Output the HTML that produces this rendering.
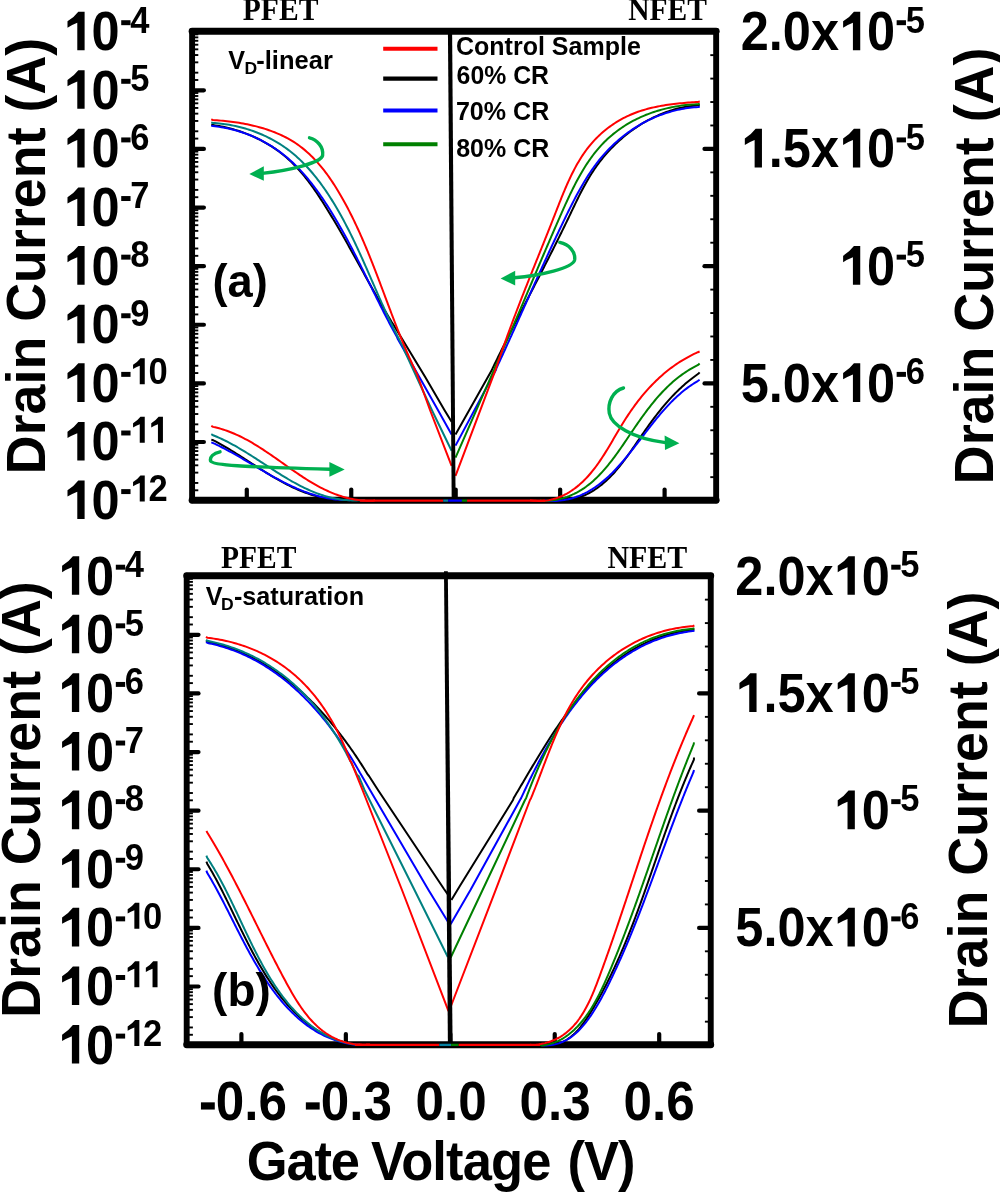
<!DOCTYPE html>
<html><head><meta charset="utf-8"><style>
html,body{margin:0;padding:0;background:#fff;width:1000px;height:1192px;overflow:hidden}
svg{display:block;will-change:transform}

</style></head><body>
<svg width="1000" height="1192" viewBox="0 0 1000 1192">
<rect width="1000" height="1192" fill="#fff"/>
<line x1="192.1" y1="90.312" x2="203.9" y2="90.312" stroke="#000" stroke-width="4.2" stroke-linecap="round"/>
<line x1="192.1" y1="148.925" x2="203.9" y2="148.925" stroke="#000" stroke-width="4.2" stroke-linecap="round"/>
<line x1="192.1" y1="207.537" x2="203.9" y2="207.537" stroke="#000" stroke-width="4.2" stroke-linecap="round"/>
<line x1="192.1" y1="266.15" x2="203.9" y2="266.15" stroke="#000" stroke-width="4.2" stroke-linecap="round"/>
<line x1="192.1" y1="324.762" x2="203.9" y2="324.762" stroke="#000" stroke-width="4.2" stroke-linecap="round"/>
<line x1="192.1" y1="383.375" x2="203.9" y2="383.375" stroke="#000" stroke-width="4.2" stroke-linecap="round"/>
<line x1="192.1" y1="441.987" x2="203.9" y2="441.987" stroke="#000" stroke-width="4.2" stroke-linecap="round"/>
<line x1="192.1" y1="79.991" x2="198.3" y2="79.991" stroke="#000" stroke-width="1.9" stroke-linecap="butt"/>
<line x1="192.1" y1="72.668" x2="198.3" y2="72.668" stroke="#000" stroke-width="1.9" stroke-linecap="butt"/>
<line x1="192.1" y1="62.347" x2="198.3" y2="62.347" stroke="#000" stroke-width="1.9" stroke-linecap="butt"/>
<line x1="192.1" y1="55.024" x2="198.3" y2="55.024" stroke="#000" stroke-width="1.9" stroke-linecap="butt"/>
<line x1="192.1" y1="49.344" x2="198.3" y2="49.344" stroke="#000" stroke-width="1.9" stroke-linecap="butt"/>
<line x1="192.1" y1="44.703" x2="198.3" y2="44.703" stroke="#000" stroke-width="1.9" stroke-linecap="butt"/>
<line x1="192.1" y1="40.779" x2="198.3" y2="40.779" stroke="#000" stroke-width="1.9" stroke-linecap="butt"/>
<line x1="192.1" y1="37.38" x2="198.3" y2="37.38" stroke="#000" stroke-width="1.9" stroke-linecap="butt"/>
<line x1="192.1" y1="34.382" x2="198.3" y2="34.382" stroke="#000" stroke-width="1.9" stroke-linecap="butt"/>
<line x1="192.1" y1="138.604" x2="198.3" y2="138.604" stroke="#000" stroke-width="1.9" stroke-linecap="butt"/>
<line x1="192.1" y1="131.281" x2="198.3" y2="131.281" stroke="#000" stroke-width="1.9" stroke-linecap="butt"/>
<line x1="192.1" y1="120.96" x2="198.3" y2="120.96" stroke="#000" stroke-width="1.9" stroke-linecap="butt"/>
<line x1="192.1" y1="113.637" x2="198.3" y2="113.637" stroke="#000" stroke-width="1.9" stroke-linecap="butt"/>
<line x1="192.1" y1="107.957" x2="198.3" y2="107.957" stroke="#000" stroke-width="1.9" stroke-linecap="butt"/>
<line x1="192.1" y1="103.316" x2="198.3" y2="103.316" stroke="#000" stroke-width="1.9" stroke-linecap="butt"/>
<line x1="192.1" y1="99.392" x2="198.3" y2="99.392" stroke="#000" stroke-width="1.9" stroke-linecap="butt"/>
<line x1="192.1" y1="95.993" x2="198.3" y2="95.993" stroke="#000" stroke-width="1.9" stroke-linecap="butt"/>
<line x1="192.1" y1="92.994" x2="198.3" y2="92.994" stroke="#000" stroke-width="1.9" stroke-linecap="butt"/>
<line x1="192.1" y1="197.216" x2="198.3" y2="197.216" stroke="#000" stroke-width="1.9" stroke-linecap="butt"/>
<line x1="192.1" y1="189.893" x2="198.3" y2="189.893" stroke="#000" stroke-width="1.9" stroke-linecap="butt"/>
<line x1="192.1" y1="179.572" x2="198.3" y2="179.572" stroke="#000" stroke-width="1.9" stroke-linecap="butt"/>
<line x1="192.1" y1="172.249" x2="198.3" y2="172.249" stroke="#000" stroke-width="1.9" stroke-linecap="butt"/>
<line x1="192.1" y1="166.569" x2="198.3" y2="166.569" stroke="#000" stroke-width="1.9" stroke-linecap="butt"/>
<line x1="192.1" y1="161.928" x2="198.3" y2="161.928" stroke="#000" stroke-width="1.9" stroke-linecap="butt"/>
<line x1="192.1" y1="158.004" x2="198.3" y2="158.004" stroke="#000" stroke-width="1.9" stroke-linecap="butt"/>
<line x1="192.1" y1="154.605" x2="198.3" y2="154.605" stroke="#000" stroke-width="1.9" stroke-linecap="butt"/>
<line x1="192.1" y1="151.607" x2="198.3" y2="151.607" stroke="#000" stroke-width="1.9" stroke-linecap="butt"/>
<line x1="192.1" y1="255.829" x2="198.3" y2="255.829" stroke="#000" stroke-width="1.9" stroke-linecap="butt"/>
<line x1="192.1" y1="248.506" x2="198.3" y2="248.506" stroke="#000" stroke-width="1.9" stroke-linecap="butt"/>
<line x1="192.1" y1="238.185" x2="198.3" y2="238.185" stroke="#000" stroke-width="1.9" stroke-linecap="butt"/>
<line x1="192.1" y1="230.862" x2="198.3" y2="230.862" stroke="#000" stroke-width="1.9" stroke-linecap="butt"/>
<line x1="192.1" y1="225.182" x2="198.3" y2="225.182" stroke="#000" stroke-width="1.9" stroke-linecap="butt"/>
<line x1="192.1" y1="220.541" x2="198.3" y2="220.541" stroke="#000" stroke-width="1.9" stroke-linecap="butt"/>
<line x1="192.1" y1="216.617" x2="198.3" y2="216.617" stroke="#000" stroke-width="1.9" stroke-linecap="butt"/>
<line x1="192.1" y1="213.218" x2="198.3" y2="213.218" stroke="#000" stroke-width="1.9" stroke-linecap="butt"/>
<line x1="192.1" y1="210.219" x2="198.3" y2="210.219" stroke="#000" stroke-width="1.9" stroke-linecap="butt"/>
<line x1="192.1" y1="314.441" x2="198.3" y2="314.441" stroke="#000" stroke-width="1.9" stroke-linecap="butt"/>
<line x1="192.1" y1="307.118" x2="198.3" y2="307.118" stroke="#000" stroke-width="1.9" stroke-linecap="butt"/>
<line x1="192.1" y1="296.797" x2="198.3" y2="296.797" stroke="#000" stroke-width="1.9" stroke-linecap="butt"/>
<line x1="192.1" y1="289.474" x2="198.3" y2="289.474" stroke="#000" stroke-width="1.9" stroke-linecap="butt"/>
<line x1="192.1" y1="283.794" x2="198.3" y2="283.794" stroke="#000" stroke-width="1.9" stroke-linecap="butt"/>
<line x1="192.1" y1="279.153" x2="198.3" y2="279.153" stroke="#000" stroke-width="1.9" stroke-linecap="butt"/>
<line x1="192.1" y1="275.229" x2="198.3" y2="275.229" stroke="#000" stroke-width="1.9" stroke-linecap="butt"/>
<line x1="192.1" y1="271.83" x2="198.3" y2="271.83" stroke="#000" stroke-width="1.9" stroke-linecap="butt"/>
<line x1="192.1" y1="268.832" x2="198.3" y2="268.832" stroke="#000" stroke-width="1.9" stroke-linecap="butt"/>
<line x1="192.1" y1="373.054" x2="198.3" y2="373.054" stroke="#000" stroke-width="1.9" stroke-linecap="butt"/>
<line x1="192.1" y1="365.731" x2="198.3" y2="365.731" stroke="#000" stroke-width="1.9" stroke-linecap="butt"/>
<line x1="192.1" y1="355.41" x2="198.3" y2="355.41" stroke="#000" stroke-width="1.9" stroke-linecap="butt"/>
<line x1="192.1" y1="348.087" x2="198.3" y2="348.087" stroke="#000" stroke-width="1.9" stroke-linecap="butt"/>
<line x1="192.1" y1="342.407" x2="198.3" y2="342.407" stroke="#000" stroke-width="1.9" stroke-linecap="butt"/>
<line x1="192.1" y1="337.766" x2="198.3" y2="337.766" stroke="#000" stroke-width="1.9" stroke-linecap="butt"/>
<line x1="192.1" y1="333.842" x2="198.3" y2="333.842" stroke="#000" stroke-width="1.9" stroke-linecap="butt"/>
<line x1="192.1" y1="330.443" x2="198.3" y2="330.443" stroke="#000" stroke-width="1.9" stroke-linecap="butt"/>
<line x1="192.1" y1="327.444" x2="198.3" y2="327.444" stroke="#000" stroke-width="1.9" stroke-linecap="butt"/>
<line x1="192.1" y1="431.666" x2="198.3" y2="431.666" stroke="#000" stroke-width="1.9" stroke-linecap="butt"/>
<line x1="192.1" y1="424.343" x2="198.3" y2="424.343" stroke="#000" stroke-width="1.9" stroke-linecap="butt"/>
<line x1="192.1" y1="414.022" x2="198.3" y2="414.022" stroke="#000" stroke-width="1.9" stroke-linecap="butt"/>
<line x1="192.1" y1="406.699" x2="198.3" y2="406.699" stroke="#000" stroke-width="1.9" stroke-linecap="butt"/>
<line x1="192.1" y1="401.019" x2="198.3" y2="401.019" stroke="#000" stroke-width="1.9" stroke-linecap="butt"/>
<line x1="192.1" y1="396.378" x2="198.3" y2="396.378" stroke="#000" stroke-width="1.9" stroke-linecap="butt"/>
<line x1="192.1" y1="392.454" x2="198.3" y2="392.454" stroke="#000" stroke-width="1.9" stroke-linecap="butt"/>
<line x1="192.1" y1="389.055" x2="198.3" y2="389.055" stroke="#000" stroke-width="1.9" stroke-linecap="butt"/>
<line x1="192.1" y1="386.057" x2="198.3" y2="386.057" stroke="#000" stroke-width="1.9" stroke-linecap="butt"/>
<line x1="192.1" y1="490.279" x2="198.3" y2="490.279" stroke="#000" stroke-width="1.9" stroke-linecap="butt"/>
<line x1="192.1" y1="482.956" x2="198.3" y2="482.956" stroke="#000" stroke-width="1.9" stroke-linecap="butt"/>
<line x1="192.1" y1="472.635" x2="198.3" y2="472.635" stroke="#000" stroke-width="1.9" stroke-linecap="butt"/>
<line x1="192.1" y1="465.312" x2="198.3" y2="465.312" stroke="#000" stroke-width="1.9" stroke-linecap="butt"/>
<line x1="192.1" y1="459.632" x2="198.3" y2="459.632" stroke="#000" stroke-width="1.9" stroke-linecap="butt"/>
<line x1="192.1" y1="454.991" x2="198.3" y2="454.991" stroke="#000" stroke-width="1.9" stroke-linecap="butt"/>
<line x1="192.1" y1="451.067" x2="198.3" y2="451.067" stroke="#000" stroke-width="1.9" stroke-linecap="butt"/>
<line x1="192.1" y1="447.668" x2="198.3" y2="447.668" stroke="#000" stroke-width="1.9" stroke-linecap="butt"/>
<line x1="192.1" y1="444.669" x2="198.3" y2="444.669" stroke="#000" stroke-width="1.9" stroke-linecap="butt"/>
<line x1="716.15" y1="148.925" x2="704.5" y2="148.925" stroke="#000" stroke-width="4.2" stroke-linecap="round"/>
<line x1="716.15" y1="266.15" x2="704.5" y2="266.15" stroke="#000" stroke-width="4.2" stroke-linecap="round"/>
<line x1="716.15" y1="383.375" x2="704.5" y2="383.375" stroke="#000" stroke-width="4.2" stroke-linecap="round"/>
<line x1="716.15" y1="55.145" x2="710.3" y2="55.145" stroke="#000" stroke-width="1.9" stroke-linecap="butt"/>
<line x1="716.15" y1="78.59" x2="710.3" y2="78.59" stroke="#000" stroke-width="1.9" stroke-linecap="butt"/>
<line x1="716.15" y1="102.035" x2="710.3" y2="102.035" stroke="#000" stroke-width="1.9" stroke-linecap="butt"/>
<line x1="716.15" y1="125.48" x2="710.3" y2="125.48" stroke="#000" stroke-width="1.9" stroke-linecap="butt"/>
<line x1="716.15" y1="172.37" x2="710.3" y2="172.37" stroke="#000" stroke-width="1.9" stroke-linecap="butt"/>
<line x1="716.15" y1="195.815" x2="710.3" y2="195.815" stroke="#000" stroke-width="1.9" stroke-linecap="butt"/>
<line x1="716.15" y1="219.26" x2="710.3" y2="219.26" stroke="#000" stroke-width="1.9" stroke-linecap="butt"/>
<line x1="716.15" y1="242.705" x2="710.3" y2="242.705" stroke="#000" stroke-width="1.9" stroke-linecap="butt"/>
<line x1="716.15" y1="289.595" x2="710.3" y2="289.595" stroke="#000" stroke-width="1.9" stroke-linecap="butt"/>
<line x1="716.15" y1="313.04" x2="710.3" y2="313.04" stroke="#000" stroke-width="1.9" stroke-linecap="butt"/>
<line x1="716.15" y1="336.485" x2="710.3" y2="336.485" stroke="#000" stroke-width="1.9" stroke-linecap="butt"/>
<line x1="716.15" y1="359.93" x2="710.3" y2="359.93" stroke="#000" stroke-width="1.9" stroke-linecap="butt"/>
<line x1="716.15" y1="406.82" x2="710.3" y2="406.82" stroke="#000" stroke-width="1.9" stroke-linecap="butt"/>
<line x1="716.15" y1="430.265" x2="710.3" y2="430.265" stroke="#000" stroke-width="1.9" stroke-linecap="butt"/>
<line x1="716.15" y1="453.71" x2="710.3" y2="453.71" stroke="#000" stroke-width="1.9" stroke-linecap="butt"/>
<line x1="716.15" y1="477.155" x2="710.3" y2="477.155" stroke="#000" stroke-width="1.9" stroke-linecap="butt"/>
<line x1="246.8" y1="500.2" x2="246.8" y2="489.6" stroke="#000" stroke-width="4.2" stroke-linecap="round"/>
<line x1="351.25" y1="500.2" x2="351.25" y2="489.6" stroke="#000" stroke-width="4.2" stroke-linecap="round"/>
<line x1="455.7" y1="500.2" x2="455.7" y2="489.6" stroke="#000" stroke-width="4.2" stroke-linecap="round"/>
<line x1="560.15" y1="500.2" x2="560.15" y2="489.6" stroke="#000" stroke-width="4.2" stroke-linecap="round"/>
<line x1="664.6" y1="500.2" x2="664.6" y2="489.6" stroke="#000" stroke-width="4.2" stroke-linecap="round"/>
<line x1="186.7" y1="634.812" x2="198.5" y2="634.812" stroke="#000" stroke-width="4.2" stroke-linecap="round"/>
<line x1="186.7" y1="693.425" x2="198.5" y2="693.425" stroke="#000" stroke-width="4.2" stroke-linecap="round"/>
<line x1="186.7" y1="752.037" x2="198.5" y2="752.037" stroke="#000" stroke-width="4.2" stroke-linecap="round"/>
<line x1="186.7" y1="810.65" x2="198.5" y2="810.65" stroke="#000" stroke-width="4.2" stroke-linecap="round"/>
<line x1="186.7" y1="869.262" x2="198.5" y2="869.262" stroke="#000" stroke-width="4.2" stroke-linecap="round"/>
<line x1="186.7" y1="927.875" x2="198.5" y2="927.875" stroke="#000" stroke-width="4.2" stroke-linecap="round"/>
<line x1="186.7" y1="986.487" x2="198.5" y2="986.487" stroke="#000" stroke-width="4.2" stroke-linecap="round"/>
<line x1="186.7" y1="624.491" x2="192.9" y2="624.491" stroke="#000" stroke-width="1.9" stroke-linecap="butt"/>
<line x1="186.7" y1="617.168" x2="192.9" y2="617.168" stroke="#000" stroke-width="1.9" stroke-linecap="butt"/>
<line x1="186.7" y1="606.847" x2="192.9" y2="606.847" stroke="#000" stroke-width="1.9" stroke-linecap="butt"/>
<line x1="186.7" y1="599.524" x2="192.9" y2="599.524" stroke="#000" stroke-width="1.9" stroke-linecap="butt"/>
<line x1="186.7" y1="593.844" x2="192.9" y2="593.844" stroke="#000" stroke-width="1.9" stroke-linecap="butt"/>
<line x1="186.7" y1="589.203" x2="192.9" y2="589.203" stroke="#000" stroke-width="1.9" stroke-linecap="butt"/>
<line x1="186.7" y1="585.279" x2="192.9" y2="585.279" stroke="#000" stroke-width="1.9" stroke-linecap="butt"/>
<line x1="186.7" y1="581.88" x2="192.9" y2="581.88" stroke="#000" stroke-width="1.9" stroke-linecap="butt"/>
<line x1="186.7" y1="578.882" x2="192.9" y2="578.882" stroke="#000" stroke-width="1.9" stroke-linecap="butt"/>
<line x1="186.7" y1="683.104" x2="192.9" y2="683.104" stroke="#000" stroke-width="1.9" stroke-linecap="butt"/>
<line x1="186.7" y1="675.781" x2="192.9" y2="675.781" stroke="#000" stroke-width="1.9" stroke-linecap="butt"/>
<line x1="186.7" y1="665.46" x2="192.9" y2="665.46" stroke="#000" stroke-width="1.9" stroke-linecap="butt"/>
<line x1="186.7" y1="658.137" x2="192.9" y2="658.137" stroke="#000" stroke-width="1.9" stroke-linecap="butt"/>
<line x1="186.7" y1="652.457" x2="192.9" y2="652.457" stroke="#000" stroke-width="1.9" stroke-linecap="butt"/>
<line x1="186.7" y1="647.816" x2="192.9" y2="647.816" stroke="#000" stroke-width="1.9" stroke-linecap="butt"/>
<line x1="186.7" y1="643.892" x2="192.9" y2="643.892" stroke="#000" stroke-width="1.9" stroke-linecap="butt"/>
<line x1="186.7" y1="640.493" x2="192.9" y2="640.493" stroke="#000" stroke-width="1.9" stroke-linecap="butt"/>
<line x1="186.7" y1="637.494" x2="192.9" y2="637.494" stroke="#000" stroke-width="1.9" stroke-linecap="butt"/>
<line x1="186.7" y1="741.716" x2="192.9" y2="741.716" stroke="#000" stroke-width="1.9" stroke-linecap="butt"/>
<line x1="186.7" y1="734.393" x2="192.9" y2="734.393" stroke="#000" stroke-width="1.9" stroke-linecap="butt"/>
<line x1="186.7" y1="724.072" x2="192.9" y2="724.072" stroke="#000" stroke-width="1.9" stroke-linecap="butt"/>
<line x1="186.7" y1="716.749" x2="192.9" y2="716.749" stroke="#000" stroke-width="1.9" stroke-linecap="butt"/>
<line x1="186.7" y1="711.069" x2="192.9" y2="711.069" stroke="#000" stroke-width="1.9" stroke-linecap="butt"/>
<line x1="186.7" y1="706.428" x2="192.9" y2="706.428" stroke="#000" stroke-width="1.9" stroke-linecap="butt"/>
<line x1="186.7" y1="702.504" x2="192.9" y2="702.504" stroke="#000" stroke-width="1.9" stroke-linecap="butt"/>
<line x1="186.7" y1="699.105" x2="192.9" y2="699.105" stroke="#000" stroke-width="1.9" stroke-linecap="butt"/>
<line x1="186.7" y1="696.107" x2="192.9" y2="696.107" stroke="#000" stroke-width="1.9" stroke-linecap="butt"/>
<line x1="186.7" y1="800.329" x2="192.9" y2="800.329" stroke="#000" stroke-width="1.9" stroke-linecap="butt"/>
<line x1="186.7" y1="793.006" x2="192.9" y2="793.006" stroke="#000" stroke-width="1.9" stroke-linecap="butt"/>
<line x1="186.7" y1="782.685" x2="192.9" y2="782.685" stroke="#000" stroke-width="1.9" stroke-linecap="butt"/>
<line x1="186.7" y1="775.362" x2="192.9" y2="775.362" stroke="#000" stroke-width="1.9" stroke-linecap="butt"/>
<line x1="186.7" y1="769.682" x2="192.9" y2="769.682" stroke="#000" stroke-width="1.9" stroke-linecap="butt"/>
<line x1="186.7" y1="765.041" x2="192.9" y2="765.041" stroke="#000" stroke-width="1.9" stroke-linecap="butt"/>
<line x1="186.7" y1="761.117" x2="192.9" y2="761.117" stroke="#000" stroke-width="1.9" stroke-linecap="butt"/>
<line x1="186.7" y1="757.718" x2="192.9" y2="757.718" stroke="#000" stroke-width="1.9" stroke-linecap="butt"/>
<line x1="186.7" y1="754.719" x2="192.9" y2="754.719" stroke="#000" stroke-width="1.9" stroke-linecap="butt"/>
<line x1="186.7" y1="858.941" x2="192.9" y2="858.941" stroke="#000" stroke-width="1.9" stroke-linecap="butt"/>
<line x1="186.7" y1="851.618" x2="192.9" y2="851.618" stroke="#000" stroke-width="1.9" stroke-linecap="butt"/>
<line x1="186.7" y1="841.297" x2="192.9" y2="841.297" stroke="#000" stroke-width="1.9" stroke-linecap="butt"/>
<line x1="186.7" y1="833.974" x2="192.9" y2="833.974" stroke="#000" stroke-width="1.9" stroke-linecap="butt"/>
<line x1="186.7" y1="828.294" x2="192.9" y2="828.294" stroke="#000" stroke-width="1.9" stroke-linecap="butt"/>
<line x1="186.7" y1="823.653" x2="192.9" y2="823.653" stroke="#000" stroke-width="1.9" stroke-linecap="butt"/>
<line x1="186.7" y1="819.729" x2="192.9" y2="819.729" stroke="#000" stroke-width="1.9" stroke-linecap="butt"/>
<line x1="186.7" y1="816.33" x2="192.9" y2="816.33" stroke="#000" stroke-width="1.9" stroke-linecap="butt"/>
<line x1="186.7" y1="813.332" x2="192.9" y2="813.332" stroke="#000" stroke-width="1.9" stroke-linecap="butt"/>
<line x1="186.7" y1="917.554" x2="192.9" y2="917.554" stroke="#000" stroke-width="1.9" stroke-linecap="butt"/>
<line x1="186.7" y1="910.231" x2="192.9" y2="910.231" stroke="#000" stroke-width="1.9" stroke-linecap="butt"/>
<line x1="186.7" y1="899.91" x2="192.9" y2="899.91" stroke="#000" stroke-width="1.9" stroke-linecap="butt"/>
<line x1="186.7" y1="892.587" x2="192.9" y2="892.587" stroke="#000" stroke-width="1.9" stroke-linecap="butt"/>
<line x1="186.7" y1="886.907" x2="192.9" y2="886.907" stroke="#000" stroke-width="1.9" stroke-linecap="butt"/>
<line x1="186.7" y1="882.266" x2="192.9" y2="882.266" stroke="#000" stroke-width="1.9" stroke-linecap="butt"/>
<line x1="186.7" y1="878.342" x2="192.9" y2="878.342" stroke="#000" stroke-width="1.9" stroke-linecap="butt"/>
<line x1="186.7" y1="874.943" x2="192.9" y2="874.943" stroke="#000" stroke-width="1.9" stroke-linecap="butt"/>
<line x1="186.7" y1="871.944" x2="192.9" y2="871.944" stroke="#000" stroke-width="1.9" stroke-linecap="butt"/>
<line x1="186.7" y1="976.166" x2="192.9" y2="976.166" stroke="#000" stroke-width="1.9" stroke-linecap="butt"/>
<line x1="186.7" y1="968.843" x2="192.9" y2="968.843" stroke="#000" stroke-width="1.9" stroke-linecap="butt"/>
<line x1="186.7" y1="958.522" x2="192.9" y2="958.522" stroke="#000" stroke-width="1.9" stroke-linecap="butt"/>
<line x1="186.7" y1="951.199" x2="192.9" y2="951.199" stroke="#000" stroke-width="1.9" stroke-linecap="butt"/>
<line x1="186.7" y1="945.519" x2="192.9" y2="945.519" stroke="#000" stroke-width="1.9" stroke-linecap="butt"/>
<line x1="186.7" y1="940.878" x2="192.9" y2="940.878" stroke="#000" stroke-width="1.9" stroke-linecap="butt"/>
<line x1="186.7" y1="936.954" x2="192.9" y2="936.954" stroke="#000" stroke-width="1.9" stroke-linecap="butt"/>
<line x1="186.7" y1="933.555" x2="192.9" y2="933.555" stroke="#000" stroke-width="1.9" stroke-linecap="butt"/>
<line x1="186.7" y1="930.557" x2="192.9" y2="930.557" stroke="#000" stroke-width="1.9" stroke-linecap="butt"/>
<line x1="186.7" y1="1034.779" x2="192.9" y2="1034.779" stroke="#000" stroke-width="1.9" stroke-linecap="butt"/>
<line x1="186.7" y1="1027.456" x2="192.9" y2="1027.456" stroke="#000" stroke-width="1.9" stroke-linecap="butt"/>
<line x1="186.7" y1="1017.135" x2="192.9" y2="1017.135" stroke="#000" stroke-width="1.9" stroke-linecap="butt"/>
<line x1="186.7" y1="1009.812" x2="192.9" y2="1009.812" stroke="#000" stroke-width="1.9" stroke-linecap="butt"/>
<line x1="186.7" y1="1004.132" x2="192.9" y2="1004.132" stroke="#000" stroke-width="1.9" stroke-linecap="butt"/>
<line x1="186.7" y1="999.491" x2="192.9" y2="999.491" stroke="#000" stroke-width="1.9" stroke-linecap="butt"/>
<line x1="186.7" y1="995.567" x2="192.9" y2="995.567" stroke="#000" stroke-width="1.9" stroke-linecap="butt"/>
<line x1="186.7" y1="992.168" x2="192.9" y2="992.168" stroke="#000" stroke-width="1.9" stroke-linecap="butt"/>
<line x1="186.7" y1="989.169" x2="192.9" y2="989.169" stroke="#000" stroke-width="1.9" stroke-linecap="butt"/>
<line x1="710.75" y1="693.425" x2="699.1" y2="693.425" stroke="#000" stroke-width="4.2" stroke-linecap="round"/>
<line x1="710.75" y1="810.65" x2="699.1" y2="810.65" stroke="#000" stroke-width="4.2" stroke-linecap="round"/>
<line x1="710.75" y1="927.875" x2="699.1" y2="927.875" stroke="#000" stroke-width="4.2" stroke-linecap="round"/>
<line x1="710.75" y1="599.645" x2="704.9" y2="599.645" stroke="#000" stroke-width="1.9" stroke-linecap="butt"/>
<line x1="710.75" y1="623.09" x2="704.9" y2="623.09" stroke="#000" stroke-width="1.9" stroke-linecap="butt"/>
<line x1="710.75" y1="646.535" x2="704.9" y2="646.535" stroke="#000" stroke-width="1.9" stroke-linecap="butt"/>
<line x1="710.75" y1="669.98" x2="704.9" y2="669.98" stroke="#000" stroke-width="1.9" stroke-linecap="butt"/>
<line x1="710.75" y1="716.87" x2="704.9" y2="716.87" stroke="#000" stroke-width="1.9" stroke-linecap="butt"/>
<line x1="710.75" y1="740.315" x2="704.9" y2="740.315" stroke="#000" stroke-width="1.9" stroke-linecap="butt"/>
<line x1="710.75" y1="763.76" x2="704.9" y2="763.76" stroke="#000" stroke-width="1.9" stroke-linecap="butt"/>
<line x1="710.75" y1="787.205" x2="704.9" y2="787.205" stroke="#000" stroke-width="1.9" stroke-linecap="butt"/>
<line x1="710.75" y1="834.095" x2="704.9" y2="834.095" stroke="#000" stroke-width="1.9" stroke-linecap="butt"/>
<line x1="710.75" y1="857.54" x2="704.9" y2="857.54" stroke="#000" stroke-width="1.9" stroke-linecap="butt"/>
<line x1="710.75" y1="880.985" x2="704.9" y2="880.985" stroke="#000" stroke-width="1.9" stroke-linecap="butt"/>
<line x1="710.75" y1="904.43" x2="704.9" y2="904.43" stroke="#000" stroke-width="1.9" stroke-linecap="butt"/>
<line x1="710.75" y1="951.32" x2="704.9" y2="951.32" stroke="#000" stroke-width="1.9" stroke-linecap="butt"/>
<line x1="710.75" y1="974.765" x2="704.9" y2="974.765" stroke="#000" stroke-width="1.9" stroke-linecap="butt"/>
<line x1="710.75" y1="998.21" x2="704.9" y2="998.21" stroke="#000" stroke-width="1.9" stroke-linecap="butt"/>
<line x1="710.75" y1="1021.655" x2="704.9" y2="1021.655" stroke="#000" stroke-width="1.9" stroke-linecap="butt"/>
<line x1="241.4" y1="1044.7" x2="241.4" y2="1034.1" stroke="#000" stroke-width="4.2" stroke-linecap="round"/>
<line x1="345.85" y1="1044.7" x2="345.85" y2="1034.1" stroke="#000" stroke-width="4.2" stroke-linecap="round"/>
<line x1="450.3" y1="1044.7" x2="450.3" y2="1034.1" stroke="#000" stroke-width="4.2" stroke-linecap="round"/>
<line x1="554.75" y1="1044.7" x2="554.75" y2="1034.1" stroke="#000" stroke-width="4.2" stroke-linecap="round"/>
<line x1="659.2" y1="1044.7" x2="659.2" y2="1034.1" stroke="#000" stroke-width="4.2" stroke-linecap="round"/>
<line x1="192.1" y1="31.3" x2="192.1" y2="500.2" stroke="#000" stroke-width="5.9" stroke-linecap="round"/>
<line x1="716.15" y1="31.3" x2="716.15" y2="500.2" stroke="#000" stroke-width="5.9" stroke-linecap="round"/>
<line x1="192.1" y1="31.3" x2="716.15" y2="31.3" stroke="#000" stroke-width="6.9" stroke-linecap="round"/>
<line x1="192.1" y1="500.2" x2="716.15" y2="500.2" stroke="#000" stroke-width="6.9" stroke-linecap="round"/>
<line x1="186.7" y1="575.8" x2="186.7" y2="1044.7" stroke="#000" stroke-width="5.9" stroke-linecap="round"/>
<line x1="710.75" y1="575.8" x2="710.75" y2="1044.7" stroke="#000" stroke-width="5.9" stroke-linecap="round"/>
<line x1="186.7" y1="575.8" x2="710.75" y2="575.8" stroke="#000" stroke-width="6.9" stroke-linecap="round"/>
<line x1="186.7" y1="1044.7" x2="710.75" y2="1044.7" stroke="#000" stroke-width="6.9" stroke-linecap="round"/>
<path d="M211.2,124.8 L213.1,125.076 L215.132,125.372 L217.16,125.696 L219.182,126.048 L221.2,126.427 L223.212,126.834 L225.217,127.268 L227.216,127.729 L229.208,128.217 L231.192,128.732 L233.169,129.274 L235.136,129.844 L237.095,130.439 L239.045,131.062 L240.985,131.711 L242.914,132.386 L244.833,133.088 L246.741,133.815 L248.637,134.569 L250.521,135.35 L252.393,136.156 L254.251,136.987 L256.097,137.845 L257.928,138.728 L259.745,139.637 L261.548,140.571 L263.335,141.531 L265.107,142.516 L266.862,143.525 L268.601,144.561 L270.323,145.62 L272.028,146.705 L273.714,147.815 L275.383,148.949 L277.032,150.108 L278.663,151.291 L280.273,152.499 L281.864,153.731 L283.434,154.987 L284.983,156.267 L286.51,157.571 L288.015,158.899 L289.499,160.25 L290.962,161.625 L292.404,163.021 L293.825,164.438 L295.227,165.876 L296.61,167.334 L297.975,168.811 L299.321,170.306 L300.65,171.819 L301.961,173.35 L303.256,174.896 L304.536,176.459 L305.8,178.036 L307.049,179.628 L308.283,181.233 L309.504,182.851 L310.711,184.481 L311.906,186.123 L313.088,187.776 L314.259,189.438 L315.418,191.11 L316.567,192.791 L317.706,194.479 L318.835,196.175 L319.955,197.878 L321.066,199.586 L322.169,201.299 L323.265,203.017 L324.354,204.739 L325.436,206.464 L326.512,208.191 L327.583,209.92 L328.648,211.652 L329.708,213.385 L330.762,215.121 L331.811,216.859 L332.856,218.598 L333.896,220.34 L334.931,222.083 L335.962,223.828 L336.988,225.575 L338.011,227.323 L339.029,229.073 L340.044,230.824 L341.056,232.577 L342.063,234.331 L343.068,236.086 L344.07,237.843 L345.069,239.601 L346.065,241.359 L347.058,243.119 L348.049,244.88 L349.038,246.642 L350.025,248.404 L351.01,250.168 L351.993,251.932 L352.975,253.696 L353.955,255.462 L354.934,257.227 L355.912,258.994 L356.89,260.76 L357.866,262.527 L358.842,264.294 L359.818,266.062 L360.793,267.83 L361.768,269.597 L362.744,271.365 L363.719,273.133 L364.696,274.9 L365.672,276.667 L366.65,278.435 L367.629,280.201 L368.608,281.968 L369.589,283.734 L370.572,285.499 L371.556,287.264 L372.542,289.029 L373.529,290.792 L374.519,292.555 L375.512,294.317 L376.506,296.078 L377.504,297.839 L378.504,299.598 L379.507,301.356 L380.513,303.113 L381.523,304.869 L382.536,306.624 L383.553,308.377 L384.573,310.129 L385.598,311.88 L386.626,313.629 L387.659,315.376 L388.697,317.122 L389.739,318.866 L390.786,320.608 L391.838,322.349 L393,324 L404,342 L425.2,377 L444.4,410 L451.6,421.8" fill="none" stroke="#000000" stroke-width="2" stroke-linejoin="round" stroke-linecap="butt"/>
<path d="M211.2,125.6 L212.934,126.096 L215.029,126.325 L217.114,126.584 L219.188,126.875 L221.252,127.196 L223.305,127.548 L225.347,127.93 L227.378,128.342 L229.397,128.784 L231.404,129.255 L233.4,129.756 L235.384,130.286 L237.355,130.845 L239.314,131.432 L241.26,132.048 L243.193,132.692 L245.113,133.364 L247.02,134.064 L248.913,134.791 L250.793,135.546 L252.658,136.327 L254.509,137.136 L256.346,137.971 L258.168,138.832 L259.975,139.719 L261.768,140.633 L263.545,141.572 L265.306,142.536 L267.052,143.526 L268.782,144.54 L270.496,145.58 L272.194,146.643 L273.875,147.732 L275.539,148.844 L277.186,149.98 L278.817,151.139 L280.43,152.322 L282.025,153.528 L283.602,154.757 L285.162,156.008 L286.703,157.282 L288.226,158.578 L289.731,159.896 L291.218,161.235 L292.688,162.594 L294.14,163.973 L295.575,165.371 L296.994,166.789 L298.396,168.224 L299.782,169.677 L301.153,171.147 L302.508,172.633 L303.848,174.135 L305.173,175.652 L306.484,177.184 L307.78,178.731 L309.063,180.29 L310.332,181.863 L311.587,183.448 L312.83,185.044 L314.06,186.652 L315.277,188.27 L316.483,189.899 L317.676,191.537 L318.858,193.184 L320.029,194.839 L321.189,196.501 L322.339,198.171 L323.478,199.848 L324.607,201.53 L325.726,203.219 L326.836,204.913 L327.936,206.613 L329.027,208.319 L330.109,210.03 L331.183,211.747 L332.247,213.468 L333.304,215.195 L334.352,216.927 L335.392,218.663 L336.425,220.404 L337.45,222.15 L338.468,223.9 L339.479,225.654 L340.483,227.412 L341.48,229.174 L342.47,230.94 L343.455,232.71 L344.433,234.484 L345.406,236.26 L346.373,238.04 L347.334,239.823 L348.29,241.61 L349.242,243.399 L350.188,245.191 L351.13,246.985 L352.067,248.782 L353.001,250.581 L353.93,252.383 L354.856,254.186 L355.778,255.991 L356.697,257.799 L357.612,259.608 L358.525,261.418 L359.435,263.23 L360.343,265.043 L361.248,266.857 L362.151,268.672 L363.052,270.488 L363.952,272.305 L364.85,274.122 L365.747,275.94 L366.643,277.758 L367.538,279.576 L368.433,281.394 L369.327,283.212 L370.221,285.03 L371.115,286.848 L372.009,288.665 L372.903,290.481 L373.799,292.296 L374.695,294.111 L375.592,295.925 L376.49,297.737 L377.39,299.548 L378.292,301.358 L379.195,303.166 L380.101,304.972 L381.009,306.776 L381.919,308.579 L382.833,310.379 L383.749,312.177 L384.668,313.973 L385.591,315.766 L386.517,317.556 L387.447,319.343 L388.381,321.128 L389.319,322.91 L390.262,324.688 L391.209,326.463 L392.161,328.234 L393.118,330.002 L394.081,331.766 L395.048,333.526 L396.022,335.282 L397.001,337.034 L397.8,339 L410.8,362 L422,381.8 L437.9,410 L451.6,434.4" fill="none" stroke="#0000ff" stroke-width="2" stroke-linejoin="round" stroke-linecap="butt"/>
<path d="M211.2,122.4 L212.87,122.952 L214.947,123.091 L217.019,123.259 L219.085,123.456 L221.146,123.681 L223.2,123.934 L225.248,124.215 L227.29,124.524 L229.323,124.861 L231.349,125.226 L233.367,125.619 L235.377,126.04 L237.378,126.488 L239.369,126.963 L241.351,127.466 L243.323,127.997 L245.284,128.554 L247.235,129.139 L249.175,129.75 L251.103,130.389 L253.019,131.054 L254.923,131.746 L256.814,132.465 L258.692,133.21 L260.557,133.982 L262.408,134.78 L264.245,135.604 L266.067,136.455 L267.874,137.332 L269.666,138.234 L271.442,139.162 L273.202,140.117 L274.946,141.097 L276.672,142.102 L278.382,143.133 L280.074,144.19 L281.747,145.271 L283.403,146.378 L285.04,147.51 L286.657,148.668 L288.255,149.85 L289.833,151.056 L291.392,152.287 L292.932,153.541 L294.453,154.819 L295.956,156.118 L297.44,157.44 L298.905,158.783 L300.353,160.146 L301.784,161.53 L303.197,162.934 L304.592,164.357 L305.971,165.798 L307.333,167.257 L308.679,168.734 L310.009,170.228 L311.322,171.738 L312.62,173.264 L313.903,174.805 L315.17,176.361 L316.422,177.932 L317.66,179.516 L318.883,181.113 L320.092,182.723 L321.287,184.344 L322.468,185.977 L323.635,187.621 L324.79,189.276 L325.931,190.94 L327.06,192.614 L328.176,194.296 L329.28,195.987 L330.372,197.685 L331.452,199.39 L332.52,201.102 L333.577,202.82 L334.624,204.544 L335.659,206.275 L336.684,208.011 L337.698,209.753 L338.703,211.501 L339.698,213.255 L340.683,215.013 L341.659,216.777 L342.625,218.546 L343.584,220.32 L344.533,222.098 L345.474,223.881 L346.407,225.669 L347.333,227.461 L348.251,229.257 L349.161,231.057 L350.065,232.861 L350.962,234.668 L351.852,236.479 L352.736,238.294 L353.613,240.112 L354.485,241.933 L355.352,243.757 L356.213,245.584 L357.069,247.413 L357.921,249.245 L358.768,251.08 L359.61,252.917 L360.449,254.756 L361.283,256.596 L362.115,258.439 L362.942,260.283 L363.767,262.129 L364.589,263.976 L365.409,265.825 L366.226,267.674 L367.041,269.525 L367.854,271.376 L368.666,273.228 L369.477,275.08 L370.286,276.933 L371.095,278.786 L371.903,280.639 L372.711,282.491 L373.519,284.344 L374.327,286.196 L375.135,288.048 L375.944,289.899 L376.754,291.749 L377.565,293.598 L378.378,295.446 L379.193,297.293 L380.009,299.138 L380.828,300.982 L381.649,302.824 L382.472,304.665 L383.299,306.503 L384.129,308.339 L384.962,310.173 L385.799,312.004 L386.64,313.833 L387.486,315.659 L388.335,317.482 L389.19,319.302 L390.049,321.119 L390.914,322.932 L391.784,324.743 L392.659,326.549 L393.541,328.352 L394.429,330.151 L395.323,331.945 L396.224,333.736 L397.132,335.522 L398.047,337.304 L398.969,339.081 L399.9,340.853 L400.838,342.62 L401.784,344.383 L402.739,346.14 L403.703,347.891 L404.2,350 L431.8,410 L451.6,450.8" fill="none" stroke="#008080" stroke-width="2" stroke-linejoin="round" stroke-linecap="butt"/>
<path d="M211.2,119.4 L212.942,120.055 L214.928,120.177 L216.922,120.312 L218.923,120.463 L220.929,120.628 L222.941,120.809 L224.958,121.005 L226.979,121.218 L229.002,121.447 L231.028,121.694 L233.056,121.958 L235.084,122.24 L237.112,122.54 L239.139,122.859 L241.165,123.198 L243.189,123.555 L245.209,123.933 L247.226,124.332 L249.237,124.751 L251.244,125.192 L253.244,125.654 L255.238,126.139 L257.224,126.646 L259.201,127.176 L261.169,127.73 L263.127,128.307 L265.075,128.909 L267.01,129.535 L268.934,130.187 L270.844,130.864 L272.741,131.567 L274.623,132.296 L276.489,133.052 L278.34,133.836 L280.173,134.647 L281.989,135.486 L283.787,136.354 L285.565,137.25 L287.323,138.176 L289.061,139.132 L290.777,140.118 L292.47,141.134 L294.141,142.182 L295.788,143.261 L297.41,144.371 L299.009,145.512 L300.585,146.683 L302.138,147.883 L303.668,149.111 L305.176,150.368 L306.662,151.651 L308.126,152.96 L309.569,154.296 L310.992,155.656 L312.394,157.04 L313.776,158.448 L315.138,159.879 L316.48,161.331 L317.804,162.805 L319.109,164.3 L320.396,165.814 L321.664,167.348 L322.915,168.9 L324.149,170.47 L325.366,172.057 L326.567,173.66 L327.751,175.279 L328.92,176.912 L330.073,178.56 L331.211,180.222 L332.334,181.896 L333.443,183.582 L334.538,185.279 L335.619,186.987 L336.687,188.705 L337.742,190.433 L338.784,192.168 L339.815,193.911 L340.833,195.662 L341.84,197.419 L342.836,199.181 L343.821,200.948 L344.795,202.72 L345.759,204.496 L346.713,206.277 L347.657,208.062 L348.592,209.851 L349.516,211.645 L350.432,213.442 L351.338,215.243 L352.236,217.049 L353.125,218.858 L354.005,220.67 L354.877,222.487 L355.741,224.307 L356.597,226.13 L357.445,227.956 L358.286,229.786 L359.12,231.619 L359.946,233.455 L360.766,235.294 L361.579,237.136 L362.386,238.98 L363.186,240.828 L363.98,242.677 L364.768,244.53 L365.551,246.384 L366.328,248.242 L367.1,250.101 L367.867,251.962 L368.629,253.826 L369.386,255.691 L370.139,257.558 L370.887,259.427 L371.632,261.298 L372.373,263.17 L373.11,265.044 L373.844,266.919 L374.574,268.796 L375.301,270.674 L376.026,272.552 L376.748,274.432 L377.467,276.313 L378.185,278.195 L378.9,280.077 L379.614,281.961 L380.325,283.844 L381.036,285.729 L381.745,287.613 L382.453,289.498 L383.161,291.383 L383.868,293.269 L384.574,295.154 L385.28,297.039 L385.986,298.924 L386.693,300.809 L387.4,302.694 L388.107,304.578 L388.815,306.462 L389.525,308.345 L390.235,310.227 L390.947,312.109 L391.661,313.99 L392.376,315.869 L393.094,317.748 L393.813,319.626 L394.535,321.502 L395.26,323.377 L395.988,325.251 L396.718,327.123 L397.452,328.993 L398.19,330.862 L398.931,332.729 L399.675,334.594 L400.424,336.457 L401.177,338.318 L401.935,340.177 L402.697,342.034 L403.464,343.888 L404.237,345.74 L405.014,347.59 L405.797,349.436 L406.586,351.281 L407.38,353.122 L408.181,354.96 L408.988,356.796 L409.801,358.628 L410.621,360.458 L411.448,362.284 L412.282,364.106 L413.123,365.926 L413.972,367.741 L414.829,369.554 L415.693,371.362 L416.566,373.167 L417.447,374.968 L418,377 L430,410 L451.6,465.8" fill="none" stroke="#ff0000" stroke-width="2" stroke-linejoin="round" stroke-linecap="butt"/>
<path d="M455.5,434.5 L492,369.8 L492.77,367.926 L493.65,366.111 L494.533,364.296 L495.418,362.483 L496.305,360.671 L497.195,358.859 L498.086,357.049 L498.979,355.24 L499.874,353.431 L500.771,351.624 L501.669,349.818 L502.569,348.012 L503.471,346.207 L504.375,344.403 L505.28,342.6 L506.186,340.798 L507.094,338.996 L508.004,337.196 L508.914,335.395 L509.826,333.596 L510.739,331.797 L511.653,329.998 L512.569,328.201 L513.485,326.403 L514.402,324.607 L515.32,322.81 L516.239,321.015 L517.159,319.219 L518.08,317.424 L519.001,315.629 L519.923,313.835 L520.846,312.041 L521.769,310.247 L522.692,308.454 L523.616,306.661 L524.54,304.868 L525.465,303.075 L526.39,301.282 L527.315,299.489 L528.24,297.697 L529.165,295.904 L530.09,294.112 L531.016,292.319 L531.941,290.526 L532.866,288.734 L533.79,286.941 L534.715,285.148 L535.639,283.355 L536.563,281.562 L537.486,279.768 L538.409,277.975 L539.331,276.181 L540.253,274.387 L541.174,272.592 L542.095,270.797 L543.014,269.002 L543.933,267.206 L544.851,265.41 L545.768,263.613 L546.684,261.816 L547.599,260.019 L548.513,258.22 L549.425,256.422 L550.337,254.622 L551.247,252.822 L552.156,251.021 L553.063,249.22 L553.969,247.418 L554.874,245.615 L555.777,243.811 L556.678,242.007 L557.578,240.201 L558.476,238.395 L559.372,236.588 L560.267,234.78 L561.159,232.971 L562.05,231.161 L562.938,229.35 L563.825,227.538 L564.709,225.725 L565.592,223.911 L566.472,222.095 L567.349,220.279 L568.225,218.461 L569.098,216.642 L569.968,214.822 L570.837,213.002 L571.706,211.181 L572.575,209.36 L573.444,207.54 L574.316,205.722 L575.191,203.905 L576.07,202.091 L576.953,200.28 L577.842,198.472 L578.738,196.668 L579.641,194.869 L580.553,193.075 L581.474,191.286 L582.405,189.504 L583.347,187.728 L584.301,185.959 L585.268,184.198 L586.249,182.446 L587.245,180.702 L588.256,178.967 L589.284,177.242 L590.329,175.527 L591.393,173.823 L592.476,172.131 L593.579,170.45 L594.703,168.782 L595.849,167.127 L597.017,165.485 L598.207,163.857 L599.419,162.243 L600.653,160.644 L601.908,159.059 L603.184,157.49 L604.48,155.936 L605.797,154.398 L607.134,152.877 L608.491,151.372 L609.868,149.884 L611.264,148.414 L612.679,146.961 L614.113,145.527 L615.565,144.111 L617.036,142.714 L618.524,141.336 L620.03,139.978 L621.554,138.64 L623.095,137.322 L624.653,136.024 L626.227,134.748 L627.818,133.493 L629.424,132.26 L631.047,131.049 L632.685,129.861 L634.338,128.696 L636.007,127.553 L637.69,126.435 L639.387,125.34 L641.099,124.27 L642.825,123.224 L644.564,122.203 L646.316,121.208 L648.082,120.239 L649.86,119.296 L651.651,118.379 L653.455,117.489 L655.27,116.627 L657.097,115.792 L658.935,114.985 L660.785,114.206 L662.645,113.456 L664.517,112.735 L666.398,112.044 L668.29,111.382 L670.191,110.751 L672.102,110.15 L674.022,109.58 L675.952,109.041 L677.89,108.534 L679.836,108.059 L681.791,107.616 L683.753,107.206 L685.724,106.829 L687.701,106.486 L689.686,106.176 L691.678,105.9 L693.676,105.659 L695.68,105.453 L697.69,105.282 L699.8,105.3" fill="none" stroke="#000000" stroke-width="2" stroke-linejoin="round" stroke-linecap="butt"/>
<path d="M455.5,445.6 L496,369.8 L496.562,367.815 L497.419,365.981 L498.274,364.147 L499.127,362.312 L499.978,360.477 L500.828,358.642 L501.676,356.807 L502.522,354.971 L503.366,353.135 L504.209,351.299 L505.051,349.462 L505.891,347.625 L506.73,345.788 L507.567,343.951 L508.404,342.113 L509.239,340.276 L510.073,338.438 L510.906,336.6 L511.737,334.761 L512.568,332.923 L513.398,331.084 L514.227,329.245 L515.056,327.406 L515.883,325.567 L516.71,323.728 L517.537,321.889 L518.363,320.05 L519.188,318.21 L520.013,316.371 L520.837,314.531 L521.661,312.692 L522.485,310.852 L523.309,309.012 L524.132,307.173 L524.956,305.333 L525.779,303.494 L526.603,301.654 L527.426,299.815 L528.25,297.975 L529.074,296.136 L529.898,294.296 L530.722,292.457 L531.547,290.618 L532.372,288.779 L533.198,286.94 L534.024,285.101 L534.851,283.262 L535.678,281.424 L536.506,279.585 L537.335,277.747 L538.165,275.909 L538.996,274.071 L539.827,272.234 L540.66,270.396 L541.494,268.559 L542.328,266.722 L543.164,264.886 L544.001,263.049 L544.84,261.213 L545.68,259.377 L546.521,257.542 L547.363,255.707 L548.208,253.872 L549.053,252.037 L549.901,250.203 L550.75,248.369 L551.6,246.536 L552.453,244.703 L553.308,242.87 L554.164,241.038 L555.022,239.206 L555.883,237.374 L556.745,235.543 L557.61,233.713 L558.477,231.882 L559.346,230.053 L560.217,228.224 L561.091,226.395 L561.967,224.567 L562.846,222.739 L563.727,220.912 L564.611,219.085 L565.498,217.259 L566.387,215.434 L567.279,213.609 L568.175,211.786 L569.075,209.964 L569.979,208.144 L570.889,206.327 L571.804,204.514 L572.725,202.703 L573.653,200.897 L574.588,199.095 L575.531,197.299 L576.482,195.507 L577.442,193.722 L578.411,191.943 L579.39,190.171 L580.379,188.406 L581.379,186.649 L582.391,184.9 L583.415,183.16 L584.451,181.429 L585.5,179.708 L586.562,177.997 L587.639,176.296 L588.73,174.607 L589.836,172.929 L590.958,171.263 L592.096,169.609 L593.251,167.969 L594.423,166.342 L595.612,164.728 L596.82,163.13 L598.047,161.545 L599.293,159.977 L600.559,158.423 L601.845,156.886 L603.151,155.366 L604.478,153.863 L605.825,152.376 L607.191,150.908 L608.577,149.457 L609.983,148.025 L611.407,146.611 L612.851,145.216 L614.313,143.84 L615.794,142.484 L617.293,141.147 L618.81,139.831 L620.345,138.535 L621.897,137.261 L623.467,136.007 L625.054,134.775 L626.658,133.565 L628.279,132.377 L629.917,131.211 L631.571,130.068 L633.241,128.949 L634.927,127.853 L636.629,126.781 L638.346,125.733 L640.078,124.709 L641.826,123.71 L643.588,122.737 L645.365,121.789 L647.157,120.867 L648.963,119.97 L650.782,119.101 L652.616,118.258 L654.463,117.442 L656.324,116.654 L658.197,115.893 L660.084,115.161 L661.983,114.457 L663.895,113.782 L665.82,113.135 L667.756,112.519 L669.704,111.932 L671.664,111.375 L673.635,110.849 L675.618,110.353 L677.611,109.888 L679.616,109.455 L681.631,109.054 L683.656,108.684 L685.692,108.347 L687.737,108.043 L689.793,107.772 L691.858,107.534 L693.932,107.33 L696.015,107.16 L698.107,107.024 L699.8,106.8" fill="none" stroke="#0000ff" stroke-width="2" stroke-linejoin="round" stroke-linecap="butt"/>
<path d="M455.5,457.7 L494,369.8 L494.69,367.88 L495.535,366.017 L496.377,364.154 L497.216,362.292 L498.052,360.43 L498.886,358.57 L499.717,356.711 L500.546,354.852 L501.373,352.995 L502.197,351.138 L503.018,349.281 L503.838,347.426 L504.655,345.571 L505.471,343.717 L506.284,341.864 L507.095,340.011 L507.904,338.158 L508.712,336.307 L509.518,334.456 L510.322,332.605 L511.124,330.755 L511.925,328.905 L512.724,327.056 L513.522,325.207 L514.318,323.359 L515.113,321.511 L515.907,319.663 L516.699,317.816 L517.491,315.969 L518.281,314.122 L519.071,312.275 L519.859,310.429 L520.646,308.583 L521.433,306.737 L522.219,304.891 L523.004,303.045 L523.789,301.199 L524.573,299.353 L525.356,297.508 L526.139,295.662 L526.922,293.817 L527.704,291.971 L528.486,290.125 L529.268,288.279 L530.05,286.433 L530.832,284.587 L531.614,282.741 L532.395,280.894 L533.177,279.048 L533.959,277.201 L534.742,275.353 L535.525,273.506 L536.308,271.658 L537.091,269.81 L537.875,267.961 L538.66,266.112 L539.445,264.263 L540.231,262.413 L541.018,260.562 L541.806,258.711 L542.594,256.86 L543.384,255.008 L544.174,253.155 L544.966,251.302 L545.759,249.448 L546.552,247.594 L547.348,245.738 L548.144,243.883 L548.942,242.026 L549.742,240.168 L550.543,238.31 L551.345,236.451 L552.15,234.591 L552.956,232.731 L553.763,230.869 L554.573,229.006 L555.385,227.143 L556.198,225.278 L557.014,223.413 L557.832,221.546 L558.651,219.679 L559.474,217.81 L560.298,215.941 L561.125,214.07 L561.954,212.198 L562.786,210.325 L563.622,208.453 L564.462,206.582 L565.307,204.711 L566.156,202.843 L567.011,200.977 L567.873,199.114 L568.741,197.254 L569.616,195.399 L570.499,193.549 L571.39,191.704 L572.29,189.865 L573.2,188.033 L574.119,186.208 L575.049,184.391 L575.989,182.582 L576.941,180.782 L577.905,178.992 L578.882,177.212 L579.871,175.443 L580.875,173.685 L581.892,171.939 L582.923,170.205 L583.97,168.485 L585.033,166.778 L586.112,165.086 L587.207,163.409 L588.32,161.747 L589.45,160.101 L590.599,158.472 L591.767,156.86 L592.954,155.266 L594.161,153.691 L595.388,152.134 L596.637,150.598 L597.906,149.081 L599.198,147.586 L600.512,146.112 L601.85,144.66 L603.211,143.23 L604.596,141.824 L606.005,140.442 L607.44,139.083 L608.898,137.749 L610.38,136.44 L611.886,135.155 L613.414,133.894 L614.965,132.659 L616.538,131.448 L618.132,130.262 L619.748,129.102 L621.384,127.967 L623.04,126.857 L624.716,125.773 L626.411,124.714 L628.125,123.681 L629.858,122.674 L631.608,121.693 L633.377,120.739 L635.162,119.81 L636.964,118.908 L638.782,118.033 L640.615,117.184 L642.464,116.362 L644.328,115.567 L646.207,114.799 L648.099,114.059 L650.005,113.345 L651.924,112.659 L653.855,112 L655.798,111.368 L657.752,110.763 L659.716,110.186 L661.69,109.635 L663.673,109.11 L665.664,108.613 L667.663,108.141 L669.669,107.696 L671.681,107.278 L673.698,106.885 L675.721,106.519 L677.748,106.178 L679.778,105.864 L681.812,105.574 L683.847,105.311 L685.885,105.073 L687.923,104.86 L689.961,104.673 L691.999,104.51 L694.035,104.373 L696.07,104.261 L698.103,104.173 L699.8,103.7" fill="none" stroke="#008000" stroke-width="2" stroke-linejoin="round" stroke-linecap="butt"/>
<path d="M455.5,475.8 L495.5,369.8 L496.176,367.918 L496.827,365.958 L497.481,364.004 L498.137,362.054 L498.796,360.108 L499.457,358.166 L500.121,356.229 L500.788,354.296 L501.457,352.367 L502.128,350.442 L502.802,348.521 L503.478,346.603 L504.157,344.689 L504.837,342.779 L505.52,340.872 L506.206,338.969 L506.893,337.068 L507.583,335.171 L508.274,333.277 L508.968,331.386 L509.664,329.498 L510.362,327.612 L511.061,325.729 L511.763,323.849 L512.466,321.971 L513.172,320.095 L513.879,318.222 L514.587,316.351 L515.298,314.482 L516.01,312.615 L516.724,310.75 L517.439,308.887 L518.156,307.025 L518.874,305.165 L519.594,303.306 L520.316,301.449 L521.038,299.593 L521.762,297.738 L522.488,295.884 L523.214,294.032 L523.942,292.18 L524.671,290.329 L525.402,288.479 L526.133,286.629 L526.865,284.78 L527.599,282.931 L528.333,281.082 L529.069,279.234 L529.805,277.386 L530.543,275.538 L531.281,273.69 L532.02,271.841 L532.759,269.992 L533.5,268.143 L534.241,266.294 L534.983,264.444 L535.725,262.593 L536.468,260.741 L537.212,258.889 L537.956,257.035 L538.7,255.181 L539.445,253.325 L540.19,251.468 L540.936,249.61 L541.682,247.75 L542.428,245.889 L543.175,244.026 L543.921,242.161 L544.668,240.295 L545.415,238.426 L546.162,236.556 L546.909,234.683 L547.656,232.808 L548.402,230.931 L549.149,229.051 L549.896,227.169 L550.642,225.284 L551.389,223.397 L552.135,221.506 L552.881,219.613 L553.626,217.717 L554.371,215.817 L555.116,213.915 L555.861,212.009 L556.606,210.101 L557.352,208.191 L558.1,206.28 L558.85,204.368 L559.604,202.457 L560.362,200.547 L561.125,198.638 L561.893,196.732 L562.667,194.829 L563.448,192.93 L564.237,191.035 L565.034,189.145 L565.84,187.261 L566.656,185.383 L567.482,183.513 L568.319,181.65 L569.169,179.796 L570.031,177.952 L570.906,176.117 L571.795,174.293 L572.699,172.48 L573.618,170.679 L574.554,168.891 L575.506,167.116 L576.476,165.355 L577.465,163.609 L578.472,161.878 L579.499,160.164 L580.547,158.466 L581.616,156.786 L582.706,155.124 L583.82,153.481 L584.956,151.857 L586.117,150.254 L587.302,148.671 L588.513,147.111 L589.75,145.572 L591.014,144.057 L592.305,142.565 L593.624,141.097 L594.969,139.653 L596.34,138.235 L597.738,136.841 L599.161,135.472 L600.609,134.13 L602.082,132.813 L603.579,131.523 L605.1,130.26 L606.645,129.023 L608.213,127.815 L609.804,126.634 L611.417,125.481 L613.052,124.357 L614.709,123.261 L616.387,122.195 L618.086,121.159 L619.805,120.152 L621.545,119.175 L623.304,118.229 L625.082,117.315 L626.879,116.431 L628.695,115.579 L630.529,114.759 L632.38,113.971 L634.249,113.216 L636.134,112.494 L638.036,111.805 L639.953,111.148 L641.885,110.522 L643.83,109.926 L645.788,109.36 L647.757,108.822 L649.736,108.311 L651.725,107.827 L653.723,107.369 L655.728,106.936 L657.74,106.526 L659.757,106.139 L661.779,105.774 L663.805,105.43 L665.834,105.106 L667.864,104.802 L669.895,104.516 L671.926,104.247 L673.956,103.995 L675.984,103.758 L678.009,103.536 L680.03,103.328 L682.046,103.133 L684.056,102.95 L686.058,102.777 L688.053,102.615 L690.04,102.462 L692.016,102.317 L693.981,102.18 L695.935,102.049 L697.876,101.923 L699.8,101.6" fill="none" stroke="#ff0000" stroke-width="2" stroke-linejoin="round" stroke-linecap="butt"/>
<path d="M211.3,439.6 L213.355,440.285 L215.135,441.212 L216.91,442.156 L218.681,443.117 L220.447,444.095 L222.208,445.088 L223.965,446.096 L225.719,447.117 L227.47,448.151 L229.217,449.197 L230.961,450.254 L232.703,451.321 L234.443,452.397 L236.181,453.482 L237.917,454.574 L239.652,455.672 L241.385,456.776 L243.118,457.885 L244.851,458.998 L246.583,460.113 L248.316,461.231 L250.049,462.35 L251.783,463.469 L253.517,464.587 L255.254,465.704 L256.991,466.819 L258.731,467.93 L260.473,469.037 L262.217,470.139 L263.965,471.235 L265.715,472.324 L267.469,473.405 L269.226,474.478 L270.988,475.541 L272.754,476.594 L274.524,477.635 L276.299,478.664 L278.08,479.68 L279.866,480.682 L281.657,481.669 L283.455,482.641 L285.259,483.595 L287.07,484.532 L288.888,485.451 L290.713,486.35 L292.545,487.229 L294.386,488.087 L296.235,488.923 L298.092,489.736 L299.957,490.525 L301.832,491.289 L303.716,492.028 L305.61,492.74 L307.514,493.425 L309.428,494.082 L311.352,494.709 L313.288,495.306 L315.234,495.873 L317.192,496.407 L319.161,496.909 L321.143,497.377 L323.137,497.811 L325.143,498.209 L327.162,498.571 L329.195,498.896 L331.241,499.182 L333.301,499.43 L335.374,499.638 L337.463,499.805 L339.566,499.93 L341.683,500.013 L343.816,500.052 L345.965,500.047 L348.13,499.997 L350,500.2" fill="none" stroke="#000000" stroke-width="2" stroke-linejoin="round" stroke-linecap="butt"/>
<path d="M211.3,442.3 L213.218,443.118 L215.029,443.959 L216.835,444.817 L218.636,445.693 L220.432,446.585 L222.224,447.492 L224.011,448.413 L225.795,449.349 L227.575,450.297 L229.351,451.258 L231.125,452.23 L232.895,453.212 L234.663,454.204 L236.429,455.204 L238.192,456.213 L239.954,457.229 L241.714,458.251 L243.473,459.278 L245.23,460.311 L246.987,461.347 L248.744,462.386 L250.5,463.427 L252.256,464.47 L254.013,465.513 L255.77,466.556 L257.528,467.598 L259.287,468.637 L261.047,469.675 L262.809,470.708 L264.573,471.737 L266.339,472.761 L268.108,473.778 L269.879,474.789 L271.653,475.792 L273.43,476.787 L275.211,477.772 L276.995,478.746 L278.784,479.71 L280.576,480.662 L282.374,481.601 L284.176,482.527 L285.983,483.438 L287.795,484.335 L289.613,485.215 L291.437,486.078 L293.267,486.924 L295.104,487.751 L296.947,488.559 L298.797,489.347 L300.654,490.113 L302.518,490.858 L304.391,491.581 L306.271,492.28 L308.159,492.954 L310.056,493.604 L311.962,494.228 L313.877,494.824 L315.801,495.394 L317.734,495.935 L319.678,496.446 L321.631,496.928 L323.595,497.379 L325.57,497.798 L327.555,498.184 L329.551,498.537 L331.559,498.856 L333.579,499.14 L335.61,499.388 L337.654,499.599 L339.71,499.773 L341.779,499.909 L343.861,500.005 L345.956,500.061 L348.065,500.077 L350,500.2" fill="none" stroke="#0000ff" stroke-width="2" stroke-linejoin="round" stroke-linecap="butt"/>
<path d="M211.3,434.2 L213.134,435.266 L214.987,436.015 L216.831,436.789 L218.665,437.588 L220.491,438.411 L222.308,439.257 L224.116,440.124 L225.917,441.013 L227.71,441.922 L229.497,442.85 L231.276,443.797 L233.049,444.761 L234.815,445.741 L236.576,446.737 L238.331,447.747 L240.081,448.771 L241.827,449.808 L243.567,450.857 L245.304,451.916 L247.037,452.986 L248.766,454.064 L250.492,455.151 L252.215,456.245 L253.936,457.345 L255.655,458.45 L257.371,459.56 L259.087,460.674 L260.801,461.79 L262.515,462.908 L264.227,464.026 L265.94,465.144 L267.653,466.261 L269.367,467.376 L271.081,468.488 L272.797,469.596 L274.514,470.7 L276.233,471.797 L277.955,472.888 L279.679,473.971 L281.405,475.046 L283.135,476.112 L284.869,477.166 L286.607,478.21 L288.348,479.242 L290.095,480.26 L291.846,481.264 L293.602,482.253 L295.365,483.227 L297.133,484.183 L298.907,485.122 L300.688,486.042 L302.476,486.942 L304.271,487.822 L306.073,488.681 L307.884,489.517 L309.703,490.329 L311.53,491.118 L313.367,491.881 L315.213,492.618 L317.068,493.328 L318.933,494.011 L320.809,494.664 L322.695,495.288 L324.592,495.88 L326.501,496.442 L328.421,496.97 L330.353,497.465 L332.298,497.926 L334.255,498.352 L336.225,498.741 L338.208,499.093 L340.206,499.407 L342.217,499.681 L344.242,499.916 L346.282,500.11 L348.337,500.262 L350.408,500.372 L352.494,500.438 L354.596,500.459 L356.714,500.434 L358.85,500.364 L361.002,500.246 L363.171,500.079 L365,500.2" fill="none" stroke="#008080" stroke-width="2" stroke-linejoin="round" stroke-linecap="butt"/>
<path d="M211.3,425.8 L213.105,426.871 L215.117,427.319 L217.112,427.806 L219.09,428.331 L221.053,428.892 L223,429.488 L224.932,430.118 L226.85,430.781 L228.754,431.477 L230.643,432.204 L232.52,432.961 L234.383,433.747 L236.235,434.562 L238.074,435.403 L239.901,436.271 L241.718,437.163 L243.523,438.08 L245.319,439.019 L247.104,439.98 L248.88,440.963 L250.647,441.965 L252.405,442.986 L254.155,444.025 L255.898,445.081 L257.633,446.152 L259.361,447.239 L261.083,448.339 L262.798,449.452 L264.509,450.576 L266.213,451.711 L267.914,452.856 L269.61,454.01 L271.302,455.171 L272.99,456.338 L274.675,457.511 L276.358,458.689 L278.039,459.87 L279.718,461.054 L281.396,462.239 L283.072,463.424 L284.748,464.609 L286.425,465.792 L288.101,466.973 L289.779,468.149 L291.457,469.321 L293.138,470.488 L294.82,471.647 L296.505,472.799 L298.193,473.942 L299.884,475.075 L301.579,476.197 L303.278,477.307 L304.982,478.405 L306.691,479.488 L308.406,480.557 L310.127,481.609 L311.854,482.644 L313.587,483.662 L315.328,484.66 L317.077,485.638 L318.834,486.595 L320.599,487.53 L322.373,488.442 L324.156,489.329 L325.95,490.191 L327.753,491.027 L329.568,491.836 L331.393,492.616 L333.23,493.367 L335.079,494.088 L336.94,494.777 L338.814,495.434 L340.701,496.057 L342.602,496.646 L344.517,497.199 L346.446,497.716 L348.39,498.195 L350.35,498.636 L352.325,499.037 L354.317,499.397 L356.326,499.716 L358.351,499.992 L360.394,500.225 L362.455,500.413 L364.534,500.554 L366.632,500.65 L368.749,500.697 L370.886,500.695 L373.043,500.644 L375,500.3" fill="none" stroke="#ff0000" stroke-width="2" stroke-linejoin="round" stroke-linecap="butt"/>
<path d="M545,500.3 L546.799,500.471 L549.044,500.757 L551.264,500.972 L553.459,501.117 L555.629,501.193 L557.774,501.202 L559.893,501.145 L561.989,501.024 L564.059,500.839 L566.104,500.591 L568.124,500.283 L570.119,499.916 L572.089,499.49 L574.035,499.008 L575.955,498.469 L577.85,497.877 L579.721,497.231 L581.566,496.533 L583.387,495.785 L585.183,494.988 L586.953,494.143 L588.699,493.252 L590.42,492.315 L592.115,491.334 L593.786,490.31 L595.432,489.245 L597.053,488.14 L598.649,486.995 L600.22,485.814 L601.766,484.596 L603.288,483.343 L604.784,482.056 L606.255,480.737 L607.703,479.387 L609.128,478.007 L610.531,476.599 L611.913,475.164 L613.275,473.703 L614.617,472.217 L615.942,470.709 L617.249,469.179 L618.54,467.628 L619.815,466.059 L621.077,464.472 L622.324,462.868 L623.559,461.249 L624.783,459.617 L625.995,457.972 L627.198,456.316 L628.392,454.65 L629.578,452.976 L630.758,451.295 L631.931,449.608 L633.099,447.917 L634.263,446.223 L635.424,444.527 L636.582,442.83 L637.739,441.135 L638.896,439.442 L640.054,437.752 L641.212,436.067 L642.373,434.387 L643.536,432.713 L644.702,431.044 L645.871,429.381 L647.045,427.724 L648.223,426.074 L649.407,424.431 L650.596,422.795 L651.792,421.167 L652.994,419.547 L654.203,417.935 L655.421,416.331 L656.647,414.736 L657.881,413.151 L659.126,411.575 L660.38,410.009 L661.645,408.453 L662.921,406.908 L664.208,405.373 L665.508,403.85 L666.82,402.338 L668.146,400.838 L669.486,399.349 L670.84,397.874 L672.209,396.411 L673.593,394.961 L674.993,393.524 L676.41,392.101 L677.844,390.693 L679.295,389.298 L680.765,387.918 L682.253,386.554 L683.76,385.204 L685.288,383.87 L686.835,382.553 L688.403,381.251 L689.993,379.966 L691.605,378.698 L693.239,377.447 L694.896,376.214 L696.576,374.999 L698.281,373.801 L699.6,372.3" fill="none" stroke="#000000" stroke-width="2" stroke-linejoin="round" stroke-linecap="butt"/>
<path d="M545,500.3 L546.908,500.951 L549.194,501.034 L551.446,501.056 L553.664,501.019 L555.849,500.923 L558.001,500.769 L560.121,500.559 L562.21,500.294 L564.268,499.974 L566.296,499.602 L568.294,499.177 L570.264,498.701 L572.204,498.175 L574.117,497.6 L576.003,496.978 L577.862,496.308 L579.695,495.593 L581.502,494.834 L583.285,494.031 L585.043,493.185 L586.777,492.299 L588.489,491.372 L590.177,490.405 L591.844,489.401 L593.489,488.36 L595.114,487.283 L596.718,486.17 L598.303,485.024 L599.869,483.846 L601.416,482.636 L602.945,481.395 L604.457,480.124 L605.953,478.826 L607.432,477.5 L608.896,476.147 L610.345,474.77 L611.78,473.368 L613.201,471.944 L614.608,470.497 L616.004,469.03 L617.387,467.542 L618.759,466.037 L620.12,464.513 L621.471,462.973 L622.812,461.418 L624.144,459.848 L625.468,458.264 L626.784,456.669 L628.093,455.062 L629.395,453.446 L630.691,451.82 L631.981,450.186 L633.267,448.546 L634.548,446.9 L635.825,445.249 L637.1,443.594 L638.372,441.937 L639.641,440.279 L640.91,438.62 L642.178,436.961 L643.445,435.303 L644.714,433.648 L645.983,431.995 L647.254,430.345 L648.528,428.7 L649.804,427.06 L651.084,425.426 L652.369,423.799 L653.658,422.179 L654.953,420.567 L656.255,418.965 L657.563,417.372 L658.878,415.791 L660.201,414.22 L661.534,412.662 L662.875,411.118 L664.227,409.587 L665.589,408.071 L666.962,406.57 L668.347,405.085 L669.744,403.618 L671.155,402.169 L672.579,400.738 L674.018,399.327 L675.471,397.936 L676.94,396.566 L678.426,395.218 L679.928,393.893 L681.448,392.592 L682.986,391.314 L684.542,390.062 L686.118,388.836 L687.714,387.636 L689.331,386.464 L690.969,385.32 L692.628,384.206 L694.31,383.121 L696.016,382.067 L697.745,381.044 L699.6,379.7" fill="none" stroke="#0000ff" stroke-width="2" stroke-linejoin="round" stroke-linecap="butt"/>
<path d="M540,500.3 L541.912,500.984 L544.196,500.958 L546.441,500.872 L548.647,500.725 L550.815,500.52 L552.945,500.257 L555.039,499.937 L557.096,499.563 L559.119,499.133 L561.107,498.651 L563.061,498.117 L564.981,497.532 L566.87,496.897 L568.726,496.213 L570.552,495.482 L572.347,494.705 L574.112,493.882 L575.849,493.015 L577.557,492.105 L579.238,491.153 L580.892,490.161 L582.52,489.128 L584.122,488.058 L585.7,486.949 L587.253,485.805 L588.784,484.625 L590.291,483.412 L591.777,482.165 L593.242,480.887 L594.686,479.578 L596.11,478.24 L597.515,476.873 L598.902,475.479 L600.271,474.059 L601.623,472.614 L602.959,471.145 L604.279,469.653 L605.585,468.139 L606.876,466.605 L608.154,465.052 L609.419,463.48 L610.671,461.891 L611.913,460.287 L613.144,458.667 L614.365,457.033 L615.577,455.387 L616.78,453.73 L617.975,452.062 L619.164,450.384 L620.345,448.699 L621.522,447.006 L622.693,445.308 L623.86,443.605 L625.023,441.898 L626.183,440.189 L627.341,438.478 L628.498,436.767 L629.653,435.057 L630.809,433.349 L631.965,431.644 L633.123,429.941 L634.282,428.243 L635.444,426.549 L636.608,424.86 L637.776,423.177 L638.948,421.499 L640.125,419.829 L641.308,418.165 L642.496,416.509 L643.692,414.862 L644.894,413.223 L646.104,411.594 L647.323,409.975 L648.55,408.367 L649.788,406.77 L651.035,405.184 L652.294,403.611 L653.564,402.05 L654.846,400.503 L656.141,398.97 L657.449,397.452 L658.771,395.948 L660.107,394.46 L661.459,392.989 L662.826,391.534 L664.21,390.097 L665.611,388.677 L667.029,387.276 L668.465,385.894 L669.92,384.532 L671.395,383.189 L672.889,381.868 L674.404,380.568 L675.941,379.289 L677.499,378.033 L679.079,376.8 L680.683,375.591 L682.31,374.405 L683.962,373.244 L685.638,372.109 L687.34,370.999 L689.067,369.916 L690.822,368.859 L692.604,367.831 L694.413,366.83 L696.251,365.857 L698.119,364.914 L699.6,363.5" fill="none" stroke="#008000" stroke-width="2" stroke-linejoin="round" stroke-linecap="butt"/>
<path d="M530,500.3 L531.889,500.41 L534.08,500.677 L536.245,500.854 L538.385,500.943 L540.499,500.946 L542.588,500.866 L544.65,500.705 L546.686,500.465 L548.696,500.15 L550.678,499.76 L552.634,499.299 L554.563,498.769 L556.465,498.172 L558.338,497.51 L560.185,496.786 L562.003,496.003 L563.793,495.162 L565.555,494.265 L567.288,493.316 L568.992,492.316 L570.667,491.268 L572.313,490.175 L573.93,489.037 L575.517,487.859 L577.074,486.642 L578.601,485.388 L580.097,484.1 L581.564,482.78 L583,481.43 L584.408,480.05 L585.789,478.642 L587.142,477.207 L588.471,475.746 L589.775,474.259 L591.055,472.748 L592.314,471.215 L593.551,469.659 L594.768,468.083 L595.966,466.486 L597.146,464.871 L598.309,463.238 L599.457,461.589 L600.589,459.924 L601.708,458.244 L602.814,456.551 L603.909,454.846 L604.993,453.129 L606.068,451.402 L607.135,449.666 L608.194,447.922 L609.247,446.171 L610.295,444.413 L611.339,442.651 L612.379,440.885 L613.418,439.116 L614.456,437.345 L615.494,435.573 L616.534,433.802 L617.576,432.032 L618.621,430.265 L619.671,428.501 L620.726,426.742 L621.788,424.989 L622.858,423.242 L623.936,421.503 L625.024,419.773 L626.123,418.053 L627.234,416.343 L628.355,414.644 L629.488,412.955 L630.633,411.278 L631.79,409.612 L632.959,407.957 L634.14,406.315 L635.335,404.685 L636.542,403.068 L637.762,401.464 L638.995,399.873 L640.242,398.295 L641.503,396.732 L642.777,395.182 L644.066,393.648 L645.369,392.127 L646.686,390.622 L648.019,389.132 L649.366,387.658 L650.729,386.2 L652.107,384.758 L653.5,383.333 L654.91,381.925 L656.336,380.533 L657.777,379.16 L659.236,377.804 L660.711,376.466 L662.203,375.146 L663.712,373.845 L665.239,372.563 L666.783,371.301 L668.345,370.058 L669.925,368.834 L671.523,367.631 L673.14,366.449 L674.775,365.287 L676.429,364.146 L678.102,363.027 L679.795,361.93 L681.507,360.854 L683.239,359.801 L684.99,358.77 L686.762,357.762 L688.554,356.777 L690.367,355.816 L692.201,354.879 L694.055,353.966 L695.931,353.077 L697.829,352.213 L699.6,351.5" fill="none" stroke="#ff0000" stroke-width="2" stroke-linejoin="round" stroke-linecap="butt"/>
<path d="M206,641 L207.693,641.79 L209.747,642.244 L211.789,642.721 L213.82,643.22 L215.839,643.74 L217.848,644.283 L219.845,644.847 L221.831,645.433 L223.807,646.04 L225.771,646.668 L227.724,647.317 L229.666,647.986 L231.597,648.676 L233.517,649.386 L235.426,650.116 L237.324,650.866 L239.212,651.636 L241.088,652.425 L242.954,653.233 L244.81,654.06 L246.654,654.906 L248.488,655.771 L250.311,656.654 L252.123,657.555 L253.925,658.474 L255.717,659.411 L257.498,660.366 L259.268,661.338 L261.028,662.328 L262.777,663.334 L264.516,664.357 L266.245,665.397 L267.964,666.454 L269.672,667.526 L271.37,668.615 L273.057,669.719 L274.735,670.839 L276.402,671.974 L278.059,673.125 L279.706,674.29 L281.343,675.471 L282.97,676.666 L284.587,677.875 L286.194,679.099 L287.791,680.337 L289.378,681.588 L290.956,682.853 L292.523,684.132 L294.081,685.424 L295.628,686.728 L297.166,688.046 L298.695,689.376 L300.214,690.719 L301.723,692.074 L303.222,693.441 L304.712,694.819 L306.192,696.209 L307.663,697.611 L309.124,699.024 L310.576,700.448 L312.018,701.883 L313.451,703.328 L314.875,704.784 L316.289,706.25 L317.694,707.726 L319.09,709.212 L320.477,710.707 L321.854,712.212 L323.222,713.726 L324.581,715.249 L325.931,716.781 L327.272,718.321 L328.604,719.87 L329.927,721.427 L331.241,722.992 L332.546,724.565 L333.842,726.146 L335.129,727.734 L336.407,729.329 L337.676,730.931 L338.937,732.54 L340.189,734.155 L341.432,735.777 L342.667,737.405 L343.893,739.04 L345.11,740.68 L346.319,742.325 L347.519,743.976 L348.711,745.632 L349.894,747.293 L351.068,748.959 L352.235,750.63 L353.392,752.305 L354.542,753.984 L355.683,755.668 L356.816,757.355 L357.941,759.045 L359.057,760.739 L360.165,762.436 L361.265,764.137 L362.357,765.84 L363.441,767.545 L364.516,769.253 L365.584,770.964 L366.644,772.676 L367.695,774.39 L369,776 L378,790 L444,889 L447.8,894.3" fill="none" stroke="#000000" stroke-width="2" stroke-linejoin="round" stroke-linecap="butt"/>
<path d="M206,642.2 L207.652,642.966 L209.709,643.399 L211.754,643.855 L213.786,644.335 L215.806,644.839 L217.814,645.366 L219.809,645.917 L221.792,646.49 L223.763,647.086 L225.723,647.704 L227.67,648.344 L229.605,649.007 L231.528,649.691 L233.439,650.397 L235.338,651.124 L237.225,651.872 L239.101,652.641 L240.964,653.431 L242.816,654.241 L244.656,655.071 L246.485,655.922 L248.301,656.792 L250.106,657.682 L251.9,658.591 L253.682,659.519 L255.452,660.466 L257.211,661.432 L258.959,662.416 L260.695,663.419 L262.419,664.439 L264.133,665.477 L265.835,666.533 L267.525,667.606 L269.205,668.697 L270.873,669.804 L272.53,670.928 L274.176,672.068 L275.811,673.225 L277.435,674.398 L279.048,675.586 L280.649,676.791 L282.24,678.01 L283.82,679.245 L285.389,680.494 L286.947,681.758 L288.494,683.037 L290.031,684.33 L291.557,685.637 L293.072,686.958 L294.576,688.293 L296.07,689.64 L297.553,691.001 L299.025,692.375 L300.487,693.762 L301.939,695.161 L303.38,696.572 L304.811,697.996 L306.231,699.431 L307.641,700.878 L309.04,702.336 L310.429,703.806 L311.808,705.286 L313.177,706.777 L314.536,708.279 L315.884,709.791 L317.222,711.313 L318.551,712.845 L319.869,714.386 L321.177,715.937 L322.475,717.497 L323.763,719.066 L325.042,720.644 L326.31,722.23 L327.569,723.825 L328.818,725.427 L330.057,727.038 L331.286,728.656 L332.506,730.282 L333.716,731.914 L334.916,733.554 L336.107,735.201 L337.288,736.854 L338.46,738.513 L339.622,740.178 L340.775,741.849 L341.918,743.526 L343.052,745.209 L344.177,746.896 L345.293,748.589 L346.399,750.286 L347.496,751.988 L348.583,753.694 L349.662,755.404 L350.731,757.118 L351.791,758.836 L352.843,760.557 L353.885,762.282 L354.918,764.009 L355.943,765.74 L356.958,767.472 L357.964,769.207 L358.962,770.945 L359.951,772.684 L361,774.4 L370,790 L428.5,890 L447.8,921.4" fill="none" stroke="#0000ff" stroke-width="2" stroke-linejoin="round" stroke-linecap="butt"/>
<path d="M206,639.8 L207.496,640.824 L209.564,641.243 L211.621,641.685 L213.667,642.149 L215.702,642.636 L217.726,643.145 L219.739,643.677 L221.741,644.231 L223.731,644.807 L225.71,645.404 L227.678,646.024 L229.635,646.664 L231.58,647.326 L233.514,648.01 L235.436,648.714 L237.347,649.439 L239.246,650.185 L241.133,650.951 L243.009,651.738 L244.873,652.545 L246.725,653.372 L248.565,654.219 L250.394,655.086 L252.211,655.972 L254.015,656.878 L255.808,657.803 L257.588,658.747 L259.357,659.711 L261.113,660.693 L262.857,661.693 L264.589,662.712 L266.308,663.75 L268.015,664.806 L269.71,665.879 L271.392,666.971 L273.062,668.08 L274.719,669.207 L276.364,670.351 L277.996,671.513 L279.615,672.691 L281.222,673.887 L282.815,675.099 L284.396,676.328 L285.964,677.573 L287.52,678.835 L289.062,680.113 L290.591,681.407 L292.107,682.716 L293.61,684.041 L295.1,685.382 L296.576,686.738 L298.04,688.109 L299.49,689.496 L300.926,690.897 L302.35,692.313 L303.759,693.743 L305.156,695.188 L306.538,696.647 L307.908,698.12 L309.263,699.607 L310.606,701.108 L311.935,702.621 L313.25,704.148 L314.553,705.688 L315.843,707.24 L317.119,708.804 L318.383,710.38 L319.634,711.968 L320.873,713.567 L322.099,715.178 L323.312,716.799 L324.513,718.431 L325.702,720.073 L326.879,721.726 L328.043,723.388 L329.196,725.059 L330.337,726.74 L331.465,728.43 L332.583,730.129 L333.688,731.836 L334.782,733.551 L335.865,735.274 L336.936,737.005 L337.996,738.743 L339.045,740.489 L340.083,742.241 L341.11,744 L342.126,745.765 L343.132,747.536 L344.127,749.313 L345.111,751.095 L346.084,752.883 L347.048,754.676 L348.001,756.473 L348.944,758.275 L349.876,760.081 L350.799,761.891 L351.712,763.704 L352.615,765.521 L353.508,767.341 L354.392,769.164 L355.266,770.99 L356.131,772.817 L356.986,774.647 L358.6,776 L364.5,790 L414.5,890 L447.8,957" fill="none" stroke="#008080" stroke-width="2" stroke-linejoin="round" stroke-linecap="butt"/>
<path d="M206,636.8 L207.566,637.788 L209.661,638.041 L211.748,638.319 L213.828,638.621 L215.9,638.946 L217.963,639.296 L220.018,639.669 L222.065,640.066 L224.103,640.487 L226.132,640.931 L228.152,641.399 L230.162,641.89 L232.163,642.405 L234.153,642.943 L236.134,643.505 L238.104,644.089 L240.064,644.697 L242.013,645.329 L243.951,645.983 L245.877,646.66 L247.792,647.36 L249.696,648.084 L251.587,648.83 L253.467,649.598 L255.334,650.39 L257.189,651.204 L259.03,652.041 L260.859,652.901 L262.675,653.783 L264.477,654.687 L266.265,655.614 L268.039,656.563 L269.799,657.535 L271.545,658.528 L273.277,659.544 L274.993,660.582 L276.695,661.642 L278.381,662.724 L280.051,663.828 L281.706,664.953 L283.345,666.101 L284.968,667.27 L286.575,668.461 L288.165,669.673 L289.738,670.908 L291.294,672.163 L292.833,673.44 L294.355,674.738 L295.86,676.056 L297.348,677.395 L298.819,678.753 L300.273,680.131 L301.711,681.529 L303.131,682.945 L304.535,684.38 L305.922,685.833 L307.292,687.304 L308.645,688.792 L309.982,690.298 L311.303,691.821 L312.606,693.361 L313.893,694.916 L315.164,696.488 L316.418,698.075 L317.655,699.678 L318.877,701.295 L320.081,702.927 L321.27,704.574 L322.442,706.234 L323.598,707.908 L324.737,709.596 L325.861,711.296 L326.968,713.009 L328.059,714.734 L329.134,716.471 L330.193,718.22 L331.235,719.98 L332.262,721.751 L333.273,723.533 L334.268,725.325 L335.247,727.127 L336.21,728.939 L337.157,730.76 L338.088,732.591 L339.004,734.429 L339.904,736.277 L340.788,738.132 L341.656,739.994 L342.509,741.865 L343.346,743.742 L344.168,745.626 L344.974,747.516 L345.765,749.412 L346.54,751.314 L347.3,753.222 L348.044,755.134 L348.773,757.051 L349.486,758.973 L350.185,760.898 L351.4,762.4 L362.5,790 L402,890 L448.5,1011.2" fill="none" stroke="#ff0000" stroke-width="2" stroke-linejoin="round" stroke-linecap="butt"/>
<path d="M451.4,900 L460,885.8 L513,800 L513.817,797.85 L514.806,796.188 L515.797,794.52 L516.789,792.845 L517.783,791.163 L518.779,789.476 L519.777,787.783 L520.778,786.084 L521.781,784.381 L522.786,782.672 L523.794,780.959 L524.805,779.242 L525.819,777.521 L526.836,775.796 L527.856,774.068 L528.879,772.337 L529.905,770.603 L530.935,768.866 L531.969,767.128 L533.007,765.387 L534.048,763.645 L535.094,761.901 L536.143,760.157 L537.197,758.412 L538.255,756.666 L539.318,754.92 L540.386,753.174 L541.458,751.429 L542.536,749.685 L543.618,747.941 L544.706,746.199 L545.799,744.459 L546.897,742.72 L548.001,740.984 L549.11,739.25 L550.226,737.519 L551.347,735.791 L552.474,734.067 L553.608,732.346 L554.748,730.629 L555.895,728.917 L557.048,727.209 L558.207,725.505 L559.374,723.807 L560.547,722.115 L561.728,720.428 L562.916,718.747 L564.111,717.072 L565.314,715.405 L566.524,713.744 L567.742,712.09 L568.968,710.443 L570.202,708.805 L571.444,707.174 L572.694,705.552 L573.953,703.939 L575.22,702.335 L576.496,700.739 L577.78,699.154 L579.074,697.578 L580.376,696.012 L581.688,694.457 L583.008,692.913 L584.338,691.379 L585.678,689.857 L587.028,688.346 L588.387,686.848 L589.756,685.361 L591.135,683.887 L592.524,682.426 L593.923,680.977 L595.333,679.543 L596.754,678.121 L598.185,676.714 L599.627,675.321 L601.08,673.943 L602.543,672.579 L604.018,671.231 L605.505,669.898 L607.002,668.58 L608.512,667.279 L610.033,665.994 L611.566,664.725 L613.11,663.474 L614.667,662.239 L616.236,661.022 L617.818,659.823 L619.411,658.642 L621.018,657.479 L622.637,656.335 L624.269,655.21 L625.913,654.104 L627.571,653.017 L629.243,651.951 L630.927,650.904 L632.625,649.878 L634.337,648.872 L636.062,647.888 L637.801,646.925 L639.554,645.983 L641.321,645.063 L643.103,644.166 L644.899,643.291 L646.709,642.438 L648.534,641.609 L650.373,640.803 L652.228,640.021 L654.097,639.262 L655.982,638.528 L657.882,637.818 L659.797,637.133 L661.728,636.474 L663.674,635.839 L665.637,635.23 L667.615,634.648 L669.609,634.091 L671.619,633.561 L673.646,633.058 L675.688,632.582 L677.748,632.134 L679.824,631.713 L681.917,631.32 L684.027,630.956 L686.153,630.62 L688.297,630.313 L690.459,630.036 L692.637,629.787 L694.4,629.5" fill="none" stroke="#000000" stroke-width="2" stroke-linejoin="round" stroke-linecap="butt"/>
<path d="M450.6,924.2 L470.6,889.8 L520,800 L521.12,798.13 L521.934,796.362 L522.753,794.591 L523.578,792.816 L524.41,791.037 L525.247,789.256 L526.091,787.471 L526.942,785.684 L527.799,783.894 L528.662,782.103 L529.532,780.309 L530.409,778.514 L531.292,776.718 L532.183,774.921 L533.08,773.123 L533.984,771.324 L534.896,769.525 L535.815,767.726 L536.741,765.928 L537.674,764.13 L538.615,762.333 L539.563,760.537 L540.519,758.742 L541.482,756.949 L542.454,755.158 L543.433,753.368 L544.42,751.582 L545.415,749.798 L546.418,748.017 L547.43,746.239 L548.449,744.465 L549.477,742.694 L550.514,740.927 L551.558,739.165 L552.612,737.407 L553.674,735.654 L554.745,733.906 L555.824,732.164 L556.913,730.427 L558.01,728.696 L559.117,726.971 L560.233,725.252 L561.357,723.54 L562.492,721.835 L563.635,720.137 L564.788,718.447 L565.951,716.764 L567.123,715.089 L568.305,713.423 L569.497,711.765 L570.699,710.116 L571.91,708.476 L573.132,706.845 L574.364,705.223 L575.606,703.612 L576.858,702.011 L578.12,700.42 L579.393,698.839 L580.677,697.27 L581.971,695.712 L583.276,694.165 L584.591,692.63 L585.918,691.107 L587.255,689.596 L588.604,688.097 L589.963,686.612 L591.334,685.139 L592.716,683.679 L594.109,682.234 L595.513,680.802 L596.93,679.384 L598.357,677.98 L599.797,676.591 L601.248,675.217 L602.711,673.858 L604.185,672.514 L605.672,671.186 L607.171,669.874 L608.682,668.579 L610.205,667.299 L611.741,666.037 L613.289,664.791 L614.849,663.563 L616.422,662.352 L618.008,661.159 L619.606,659.984 L621.217,658.828 L622.841,657.69 L624.478,656.571 L626.128,655.47 L627.791,654.39 L629.467,653.329 L631.157,652.288 L632.86,651.267 L634.576,650.266 L636.306,649.287 L638.05,648.328 L639.807,647.39 L641.578,646.474 L643.363,645.58 L645.161,644.708 L646.974,643.858 L648.801,643.03 L650.642,642.226 L652.497,641.444 L654.367,640.686 L656.251,639.952 L658.149,639.241 L660.062,638.555 L661.99,637.893 L663.933,637.255 L665.89,636.643 L667.862,636.056 L669.849,635.494 L671.852,634.958 L673.869,634.449 L675.902,633.965 L677.95,633.508 L680.013,633.078 L682.092,632.674 L684.186,632.299 L686.296,631.95 L688.422,631.63 L690.564,631.338 L692.721,631.074 L694.4,630.7" fill="none" stroke="#0000ff" stroke-width="2" stroke-linejoin="round" stroke-linecap="butt"/>
<path d="M450.6,957.7 L482.7,889.8 L525,800 L526.08,798.133 L526.759,796.305 L527.447,794.473 L528.142,792.637 L528.846,790.798 L529.557,788.956 L530.277,787.112 L531.005,785.265 L531.741,783.415 L532.485,781.564 L533.238,779.711 L534,777.857 L534.77,776.002 L535.548,774.146 L536.335,772.29 L537.132,770.433 L537.937,768.577 L538.75,766.721 L539.573,764.865 L540.405,763.01 L541.246,761.157 L542.097,759.305 L542.957,757.454 L543.826,755.606 L544.704,753.76 L545.592,751.917 L546.49,750.076 L547.397,748.238 L548.314,746.404 L549.241,744.574 L550.178,742.748 L551.124,740.926 L552.081,739.108 L553.048,737.295 L554.025,735.488 L555.012,733.685 L556.01,731.889 L557.018,730.098 L558.036,728.314 L559.065,726.536 L560.105,724.764 L561.155,723 L562.216,721.243 L563.288,719.494 L564.371,717.753 L565.464,716.02 L566.569,714.295 L567.685,712.579 L568.812,710.872 L569.951,709.174 L571.101,707.486 L572.262,705.808 L573.435,704.14 L574.619,702.482 L575.815,700.835 L577.022,699.199 L578.242,697.574 L579.473,695.961 L580.716,694.359 L581.971,692.77 L583.239,691.193 L584.518,689.628 L585.81,688.077 L587.114,686.538 L588.43,685.014 L589.759,683.503 L591.1,682.006 L592.454,680.523 L593.821,679.055 L595.2,677.602 L596.592,676.163 L597.997,674.741 L599.415,673.334 L600.846,671.943 L602.29,670.568 L603.747,669.21 L605.218,667.869 L606.701,666.545 L608.199,665.238 L609.709,663.949 L611.233,662.678 L612.771,661.425 L614.323,660.191 L615.888,658.975 L617.467,657.779 L619.06,656.602 L620.667,655.444 L622.288,654.306 L623.923,653.189 L625.573,652.092 L627.236,651.016 L628.914,649.961 L630.606,648.927 L632.313,647.915 L634.035,646.924 L635.771,645.956 L637.522,645.01 L639.287,644.087 L641.068,643.187 L642.863,642.31 L644.673,641.457 L646.499,640.627 L648.339,639.822 L650.195,639.041 L652.066,638.285 L653.952,637.553 L655.854,636.847 L657.772,636.166 L659.705,635.512 L661.653,634.883 L663.618,634.28 L665.598,633.704 L667.594,633.156 L669.606,632.634 L671.634,632.139 L673.678,631.673 L675.738,631.234 L677.815,630.824 L679.908,630.442 L682.017,630.09 L684.143,629.766 L686.285,629.472 L688.444,629.207 L690.619,628.972 L692.812,628.768 L694.4,628.3" fill="none" stroke="#008000" stroke-width="2" stroke-linejoin="round" stroke-linecap="butt"/>
<path d="M450.6,1007 L495.7,889.8 L530,800 L531.027,798.162 L531.77,796.366 L532.509,794.561 L533.244,792.746 L533.975,790.922 L534.703,789.09 L535.428,787.25 L536.15,785.402 L536.871,783.547 L537.59,781.685 L538.308,779.816 L539.025,777.942 L539.741,776.063 L540.458,774.178 L541.175,772.289 L541.893,770.396 L542.612,768.499 L543.333,766.599 L544.055,764.696 L544.78,762.791 L545.508,760.884 L546.239,758.975 L546.974,757.066 L547.713,755.156 L548.457,753.245 L549.205,751.335 L549.958,749.426 L550.717,747.518 L551.483,745.612 L552.254,743.707 L553.033,741.806 L553.819,739.907 L554.612,738.011 L555.414,736.12 L556.224,734.233 L557.043,732.35 L557.872,730.473 L558.71,728.601 L559.558,726.735 L560.417,724.876 L561.287,723.023 L562.168,721.178 L563.061,719.341 L563.966,717.512 L564.884,715.692 L565.814,713.881 L566.758,712.08 L567.716,710.288 L568.688,708.507 L569.674,706.737 L570.676,704.979 L571.693,703.232 L572.725,701.497 L573.774,699.775 L574.84,698.066 L575.922,696.371 L577.022,694.689 L578.14,693.022 L579.276,691.37 L580.43,689.734 L581.604,688.113 L582.797,686.508 L584.008,684.919 L585.238,683.346 L586.487,681.791 L587.754,680.252 L589.04,678.73 L590.344,677.225 L591.666,675.737 L593.006,674.267 L594.364,672.815 L595.739,671.381 L597.132,669.965 L598.543,668.568 L599.971,667.189 L601.416,665.829 L602.879,664.488 L604.358,663.166 L605.854,661.863 L607.367,660.58 L608.896,659.317 L610.442,658.074 L612.004,656.851 L613.583,655.648 L615.177,654.466 L616.788,653.305 L618.414,652.165 L620.056,651.046 L621.714,649.948 L623.387,648.872 L625.075,647.818 L626.778,646.785 L628.497,645.775 L630.231,644.787 L631.979,643.822 L633.742,642.879 L635.52,641.96 L637.312,641.064 L639.118,640.191 L640.939,639.341 L642.773,638.516 L644.622,637.714 L646.484,636.937 L648.36,636.184 L650.25,635.455 L652.153,634.752 L654.069,634.073 L655.998,633.419 L657.941,632.791 L659.896,632.189 L661.865,631.612 L663.845,631.061 L665.839,630.536 L667.845,630.038 L669.863,629.566 L671.893,629.121 L673.936,628.703 L675.99,628.312 L678.056,627.949 L680.133,627.613 L682.223,627.305 L684.323,627.025 L686.435,626.773 L688.558,626.549 L690.692,626.354 L692.837,626.187 L694.4,625.5" fill="none" stroke="#ff0000" stroke-width="2" stroke-linejoin="round" stroke-linecap="butt"/>
<path d="M206.4,861.6 L207.306,863.923 L208.278,865.523 L209.243,867.138 L210.202,868.767 L211.155,870.411 L212.103,872.068 L213.046,873.738 L213.983,875.421 L214.916,877.116 L215.845,878.823 L216.769,880.542 L217.69,882.272 L218.607,884.013 L219.521,885.764 L220.431,887.524 L221.339,889.295 L222.245,891.074 L223.148,892.862 L224.05,894.659 L224.949,896.463 L225.848,898.274 L226.745,900.093 L227.642,901.918 L228.537,903.75 L229.433,905.587 L230.329,907.429 L231.225,909.277 L232.121,911.129 L233.019,912.985 L233.917,914.845 L234.817,916.708 L235.719,918.574 L236.622,920.443 L237.528,922.313 L238.436,924.185 L239.347,926.059 L240.261,927.933 L241.179,929.808 L242.1,931.683 L243.025,933.557 L243.954,935.43 L244.887,937.303 L245.825,939.173 L246.768,941.042 L247.717,942.908 L248.671,944.771 L249.631,946.631 L250.596,948.487 L251.569,950.339 L252.547,952.187 L253.533,954.03 L254.526,955.867 L255.526,957.698 L256.534,959.524 L257.551,961.342 L258.575,963.154 L259.608,964.958 L260.65,966.755 L261.701,968.543 L262.761,970.323 L263.831,972.093 L264.911,973.854 L266.001,975.605 L267.102,977.346 L268.214,979.076 L269.336,980.795 L270.47,982.503 L271.615,984.198 L272.773,985.881 L273.942,987.552 L275.124,989.209 L276.319,990.853 L277.526,992.482 L278.747,994.097 L279.981,995.698 L281.23,997.283 L282.492,998.852 L283.769,1000.405 L285.06,1001.942 L286.366,1003.462 L287.687,1004.965 L289.024,1006.45 L290.377,1007.916 L291.745,1009.365 L293.13,1010.794 L294.532,1012.204 L295.95,1013.594 L297.385,1014.963 L298.838,1016.312 L300.308,1017.639 L301.797,1018.944 L303.303,1020.226 L304.827,1021.485 L306.371,1022.719 L307.933,1023.929 L309.514,1025.114 L311.114,1026.273 L312.734,1027.406 L314.374,1028.512 L316.034,1029.59 L317.715,1030.64 L319.416,1031.662 L321.138,1032.654 L322.88,1033.616 L324.645,1034.548 L326.431,1035.448 L328.238,1036.317 L330.068,1037.153 L331.92,1037.957 L333.795,1038.727 L335.693,1039.463 L337.614,1040.164 L339.558,1040.83 L341.526,1041.46 L343.517,1042.054 L345.533,1042.611 L347.573,1043.13 L349.638,1043.61 L351.727,1044.052 L353.842,1044.455 L355.982,1044.817 L358.148,1045.139 L360,1044.6" fill="none" stroke="#000000" stroke-width="2" stroke-linejoin="round" stroke-linecap="butt"/>
<path d="M206.4,870.6 L207.187,872.841 L208.164,874.448 L209.136,876.07 L210.102,877.706 L211.064,879.355 L212.021,881.017 L212.974,882.691 L213.922,884.377 L214.867,886.074 L215.809,887.783 L216.747,889.503 L217.683,891.232 L218.616,892.972 L219.546,894.721 L220.474,896.479 L221.401,898.246 L222.326,900.021 L223.25,901.803 L224.172,903.593 L225.094,905.39 L226.016,907.194 L226.937,909.003 L227.859,910.818 L228.781,912.638 L229.703,914.464 L230.627,916.293 L231.551,918.127 L232.478,919.964 L233.405,921.804 L234.335,923.647 L235.268,925.492 L236.202,927.339 L237.14,929.187 L238.081,931.037 L239.025,932.887 L239.973,934.737 L240.925,936.587 L241.881,938.436 L242.842,940.284 L243.807,942.131 L244.778,943.976 L245.753,945.818 L246.735,947.658 L247.722,949.494 L248.715,951.327 L249.715,953.156 L250.722,954.98 L251.735,956.799 L252.756,958.614 L253.784,960.422 L254.82,962.224 L255.864,964.02 L256.917,965.808 L257.978,967.59 L259.048,969.363 L260.127,971.128 L261.216,972.885 L262.314,974.632 L263.423,976.37 L264.541,978.098 L265.671,979.816 L266.811,981.522 L267.962,983.218 L269.124,984.902 L270.298,986.574 L271.485,988.233 L272.683,989.88 L273.894,991.513 L275.117,993.133 L276.354,994.738 L277.603,996.329 L278.867,997.904 L280.144,999.465 L281.435,1001.009 L282.741,1002.537 L284.062,1004.049 L285.397,1005.544 L286.748,1007.02 L288.114,1008.479 L289.496,1009.92 L290.893,1011.342 L292.308,1012.744 L293.739,1014.127 L295.186,1015.49 L296.651,1016.833 L298.133,1018.154 L299.633,1019.452 L301.15,1020.729 L302.686,1021.981 L304.24,1023.209 L305.812,1024.412 L307.402,1025.589 L309.012,1026.74 L310.64,1027.863 L312.288,1028.958 L313.956,1030.025 L315.643,1031.061 L317.35,1032.068 L319.077,1033.043 L320.824,1033.987 L322.592,1034.897 L324.381,1035.775 L326.19,1036.618 L328.021,1037.427 L329.874,1038.2 L331.748,1038.937 L333.643,1039.636 L335.561,1040.298 L337.501,1040.921 L339.464,1041.505 L341.449,1042.048 L343.457,1042.551 L345.489,1043.012 L347.543,1043.431 L349.622,1043.807 L351.724,1044.139 L353.85,1044.426 L356,1044.668 L358.174,1044.864 L360,1044.6" fill="none" stroke="#0000ff" stroke-width="2" stroke-linejoin="round" stroke-linecap="butt"/>
<path d="M206.4,855.6 L207.219,857.806 L208.275,859.398 L209.321,861.005 L210.357,862.625 L211.383,864.259 L212.398,865.905 L213.405,867.565 L214.402,869.236 L215.39,870.919 L216.37,872.614 L217.342,874.319 L218.306,876.036 L219.263,877.762 L220.212,879.499 L221.155,881.245 L222.091,883.001 L223.021,884.765 L223.945,886.538 L224.864,888.32 L225.778,890.109 L226.686,891.905 L227.591,893.708 L228.491,895.518 L229.387,897.335 L230.28,899.157 L231.17,900.985 L232.057,902.819 L232.941,904.657 L233.824,906.499 L234.704,908.346 L235.583,910.197 L236.461,912.05 L237.338,913.907 L238.214,915.767 L239.09,917.629 L239.967,919.493 L240.844,921.358 L241.721,923.225 L242.6,925.092 L243.48,926.96 L244.363,928.828 L245.247,930.696 L246.134,932.563 L247.023,934.429 L247.916,936.294 L248.812,938.157 L249.712,940.018 L250.616,941.876 L251.525,943.732 L252.438,945.584 L253.356,947.433 L254.28,949.278 L255.21,951.119 L256.146,952.955 L257.088,954.786 L258.037,956.611 L258.993,958.431 L259.957,960.245 L260.928,962.052 L261.908,963.853 L262.896,965.646 L263.892,967.431 L264.898,969.209 L265.913,970.978 L266.938,972.739 L267.973,974.49 L269.019,976.233 L270.075,977.965 L271.142,979.687 L272.221,981.399 L273.312,983.1 L274.414,984.789 L275.529,986.467 L276.657,988.133 L277.797,989.787 L278.952,991.428 L280.119,993.056 L281.301,994.67 L282.498,996.271 L283.709,997.857 L284.935,999.429 L286.176,1000.986 L287.434,1002.528 L288.707,1004.054 L289.997,1005.564 L291.303,1007.057 L292.626,1008.534 L293.967,1009.994 L295.326,1011.436 L296.702,1012.861 L298.097,1014.267 L299.511,1015.655 L300.943,1017.024 L302.395,1018.373 L303.867,1019.702 L305.358,1021.009 L306.869,1022.293 L308.401,1023.554 L309.952,1024.789 L311.525,1025.999 L313.118,1027.182 L314.733,1028.337 L316.368,1029.463 L318.025,1030.558 L319.704,1031.623 L321.405,1032.655 L323.128,1033.653 L324.873,1034.617 L326.64,1035.546 L328.431,1036.438 L330.244,1037.293 L332.081,1038.108 L333.941,1038.884 L335.825,1039.619 L337.733,1040.313 L339.664,1040.963 L341.62,1041.569 L343.601,1042.13 L345.606,1042.645 L347.636,1043.113 L349.692,1043.532 L351.772,1043.902 L353.879,1044.221 L356.011,1044.489 L358.169,1044.705 L360,1044.6" fill="none" stroke="#008080" stroke-width="2" stroke-linejoin="round" stroke-linecap="butt"/>
<path d="M206.4,831 L207.414,832.77 L208.484,834.516 L209.547,836.263 L210.603,838.012 L211.652,839.763 L212.695,841.515 L213.731,843.268 L214.76,845.022 L215.783,846.778 L216.8,848.536 L217.811,850.294 L218.816,852.054 L219.815,853.815 L220.809,855.577 L221.798,857.341 L222.781,859.106 L223.759,860.872 L224.732,862.639 L225.7,864.408 L226.664,866.178 L227.623,867.948 L228.578,869.72 L229.528,871.493 L230.475,873.268 L231.417,875.043 L232.356,876.819 L233.291,878.596 L234.223,880.375 L235.151,882.154 L236.076,883.935 L236.998,885.716 L237.918,887.498 L238.834,889.281 L239.748,891.066 L240.66,892.851 L241.569,894.637 L242.476,896.424 L243.381,898.211 L244.284,900 L245.186,901.79 L246.085,903.58 L246.984,905.371 L247.881,907.163 L248.777,908.955 L249.673,910.749 L250.567,912.543 L251.461,914.337 L252.354,916.133 L253.247,917.929 L254.14,919.726 L255.032,921.523 L255.925,923.321 L256.818,925.12 L257.711,926.919 L258.605,928.719 L259.499,930.52 L260.394,932.321 L261.291,934.122 L262.188,935.924 L263.086,937.727 L263.986,939.53 L264.888,941.333 L265.791,943.137 L266.696,944.941 L267.604,946.746 L268.513,948.551 L269.424,950.357 L270.338,952.163 L271.255,953.969 L272.174,955.775 L273.097,957.582 L274.022,959.389 L274.95,961.197 L275.882,963.005 L276.817,964.812 L277.756,966.621 L278.699,968.429 L279.645,970.238 L280.596,972.046 L281.551,973.855 L282.51,975.664 L283.474,977.473 L284.443,979.283 L285.416,981.092 L286.394,982.901 L287.379,984.708 L288.371,986.511 L289.371,988.311 L290.38,990.105 L291.398,991.892 L292.427,993.671 L293.468,995.441 L294.521,997.2 L295.587,998.947 L296.667,1000.682 L297.762,1002.401 L298.872,1004.106 L300,1005.793 L301.145,1007.463 L302.308,1009.113 L303.491,1010.742 L304.694,1012.35 L305.918,1013.934 L307.164,1015.494 L308.433,1017.029 L309.725,1018.537 L311.042,1020.016 L312.385,1021.467 L313.753,1022.886 L315.149,1024.274 L316.571,1025.628 L318.02,1026.948 L319.497,1028.232 L321.001,1029.478 L322.534,1030.685 L324.095,1031.852 L325.684,1032.977 L327.302,1034.059 L328.949,1035.097 L330.625,1036.089 L332.331,1037.034 L334.067,1037.931 L335.833,1038.777 L337.629,1039.572 L339.456,1040.315 L341.313,1041.003 L343.202,1041.636 L345.122,1042.212 L347.073,1042.73 L349.056,1043.189 L351.07,1043.587 L353.116,1043.923 L355.194,1044.196 L357.303,1044.405 L359.444,1044.548 L361.617,1044.623 L363.822,1044.631 L366.059,1044.569 L368.329,1044.436 L370,1044.6" fill="none" stroke="#ff0000" stroke-width="2" stroke-linejoin="round" stroke-linecap="butt"/>
<path d="M540,1044.8 L542.263,1045.179 L544.552,1045.364 L546.776,1045.428 L548.937,1045.375 L551.036,1045.208 L553.075,1044.933 L555.057,1044.552 L556.981,1044.07 L558.851,1043.49 L560.668,1042.817 L562.434,1042.054 L564.15,1041.204 L565.819,1040.273 L567.441,1039.264 L569.019,1038.18 L570.555,1037.026 L572.049,1035.805 L573.505,1034.521 L574.923,1033.179 L576.306,1031.782 L577.654,1030.334 L578.971,1028.839 L580.256,1027.3 L581.514,1025.722 L582.744,1024.109 L583.949,1022.464 L585.13,1020.791 L586.29,1019.094 L587.429,1017.378 L588.551,1015.645 L589.655,1013.9 L590.745,1012.146 L591.822,1010.388 L592.886,1008.628 L593.939,1006.864 L594.979,1005.098 L596.009,1003.329 L597.027,1001.557 L598.034,999.783 L599.031,998.005 L600.017,996.225 L600.993,994.442 L601.959,992.656 L602.916,990.867 L603.863,989.074 L604.801,987.279 L605.731,985.481 L606.651,983.68 L607.563,981.876 L608.468,980.068 L609.364,978.258 L610.253,976.444 L611.134,974.627 L612.008,972.807 L612.875,970.984 L613.735,969.158 L614.588,967.328 L615.435,965.496 L616.275,963.661 L617.108,961.824 L617.935,959.983 L618.755,958.14 L619.57,956.294 L620.378,954.445 L621.18,952.594 L621.977,950.741 L622.768,948.885 L623.553,947.026 L624.333,945.165 L625.108,943.302 L625.877,941.436 L626.642,939.569 L627.401,937.699 L628.156,935.827 L628.906,933.953 L629.651,932.077 L630.392,930.199 L631.128,928.319 L631.86,926.438 L632.589,924.554 L633.313,922.669 L634.033,920.782 L634.749,918.893 L635.462,917.003 L636.172,915.112 L636.878,913.218 L637.581,911.324 L638.28,909.428 L638.977,907.53 L639.67,905.632 L640.361,903.732 L641.05,901.831 L641.735,899.928 L642.419,898.025 L643.1,896.121 L643.778,894.216 L644.455,892.309 L645.13,890.402 L645.803,888.494 L646.474,886.586 L647.144,884.676 L647.812,882.766 L648.479,880.855 L649.145,878.944 L649.809,877.032 L650.473,875.12 L651.136,873.208 L651.798,871.294 L652.459,869.381 L653.12,867.468 L653.781,865.554 L654.441,863.64 L655.102,861.726 L655.762,859.812 L656.422,857.897 L657.083,855.983 L657.744,854.069 L658.405,852.156 L659.067,850.242 L659.73,848.328 L660.393,846.415 L661.058,844.503 L661.724,842.59 L662.39,840.678 L663.058,838.767 L663.728,836.856 L664.399,834.946 L665.072,833.037 L665.746,831.128 L666.423,829.22 L667.102,827.313 L667.782,825.406 L668.465,823.501 L669.151,821.596 L669.839,819.693 L670.529,817.79 L671.223,815.889 L671.919,813.989 L672.618,812.09 L673.32,810.193 L674.026,808.296 L674.735,806.402 L675.448,804.508 L676.164,802.616 L676.884,800.726 L677.607,798.837 L678.335,796.95 L679.067,795.064 L679.803,793.18 L680.543,791.298 L681.288,789.418 L682.037,787.54 L682.791,785.664 L683.55,783.789 L684.314,781.917 L685.083,780.047 L685.857,778.179 L686.636,776.313 L687.421,774.45 L688.211,772.588 L689.007,770.729 L689.809,768.873 L690.616,767.019 L691.43,765.167 L692.25,763.318 L693.076,761.472 L693.909,759.628 L694,757.5" fill="none" stroke="#000000" stroke-width="2" stroke-linejoin="round" stroke-linecap="butt"/>
<path d="M540,1044.8 L542.29,1045.371 L544.529,1045.445 L546.713,1045.419 L548.844,1045.297 L550.923,1045.081 L552.95,1044.774 L554.927,1044.379 L556.856,1043.899 L558.737,1043.337 L560.572,1042.695 L562.362,1041.976 L564.108,1041.183 L565.812,1040.319 L567.475,1039.386 L569.097,1038.388 L570.681,1037.328 L572.228,1036.207 L573.738,1035.03 L575.213,1033.798 L576.654,1032.515 L578.063,1031.183 L579.44,1029.806 L580.787,1028.386 L582.106,1026.925 L583.396,1025.428 L584.661,1023.895 L585.9,1022.332 L587.115,1020.739 L588.308,1019.12 L589.48,1017.479 L590.631,1015.816 L591.763,1014.137 L592.877,1012.441 L593.974,1010.732 L595.054,1009.008 L596.118,1007.271 L597.167,1005.521 L598.201,1003.76 L599.221,1001.988 L600.227,1000.206 L601.22,998.415 L602.201,996.616 L603.17,994.808 L604.128,992.994 L605.075,991.174 L606.013,989.348 L606.941,987.518 L607.861,985.684 L608.773,983.847 L609.677,982.007 L610.574,980.167 L611.466,978.325 L612.35,976.482 L613.229,974.638 L614.101,972.793 L614.968,970.946 L615.828,969.099 L616.683,967.251 L617.532,965.402 L618.375,963.551 L619.213,961.7 L620.046,959.848 L620.873,957.995 L621.695,956.141 L622.512,954.286 L623.324,952.43 L624.131,950.573 L624.933,948.715 L625.73,946.856 L626.523,944.997 L627.311,943.137 L628.095,941.275 L628.875,939.413 L629.651,937.551 L630.422,935.687 L631.19,933.823 L631.953,931.957 L632.713,930.091 L633.469,928.225 L634.222,926.357 L634.971,924.489 L635.716,922.62 L636.459,920.751 L637.198,918.881 L637.934,917.01 L638.668,915.138 L639.398,913.266 L640.126,911.393 L640.851,909.52 L641.573,907.646 L642.293,905.772 L643.011,903.896 L643.726,902.021 L644.439,900.145 L645.151,898.268 L645.86,896.39 L646.567,894.513 L647.273,892.634 L647.977,890.756 L648.68,888.876 L649.381,886.997 L650.081,885.117 L650.779,883.236 L651.476,881.355 L652.173,879.474 L652.868,877.592 L653.563,875.71 L654.257,873.828 L654.95,871.945 L655.643,870.062 L656.336,868.178 L657.028,866.294 L657.72,864.41 L658.411,862.526 L659.103,860.642 L659.795,858.757 L660.487,856.872 L661.18,854.986 L661.872,853.101 L662.566,851.215 L663.26,849.329 L663.954,847.443 L664.65,845.557 L665.346,843.671 L666.043,841.784 L666.742,839.898 L667.442,838.011 L668.143,836.124 L668.845,834.237 L669.549,832.35 L670.255,830.463 L670.962,828.576 L671.671,826.689 L672.382,824.802 L673.096,822.915 L673.811,821.028 L674.528,819.141 L675.248,817.254 L675.971,815.367 L676.696,813.48 L677.423,811.593 L678.153,809.707 L678.887,807.82 L679.623,805.934 L680.362,804.047 L681.104,802.161 L681.85,800.275 L682.599,798.389 L683.351,796.504 L684.107,794.618 L684.867,792.733 L685.63,790.848 L686.398,788.963 L687.169,787.079 L687.944,785.195 L688.724,783.311 L689.508,781.427 L690.296,779.544 L691.088,777.661 L691.886,775.778 L692.688,773.896 L693.494,772.014 L694,770.1" fill="none" stroke="#0000ff" stroke-width="2" stroke-linejoin="round" stroke-linecap="butt"/>
<path d="M540,1044.8 L542.119,1045.458 L544.234,1045.183 L546.305,1044.824 L548.333,1044.386 L550.318,1043.869 L552.262,1043.277 L554.164,1042.612 L556.026,1041.877 L557.848,1041.075 L559.631,1040.208 L561.375,1039.279 L563.082,1038.291 L564.751,1037.246 L566.384,1036.147 L567.981,1034.996 L569.543,1033.796 L571.07,1032.55 L572.564,1031.26 L574.024,1029.93 L575.452,1028.561 L576.849,1027.156 L578.214,1025.719 L579.548,1024.25 L580.853,1022.755 L582.129,1021.233 L583.377,1019.687 L584.597,1018.118 L585.791,1016.525 L586.959,1014.911 L588.102,1013.275 L589.221,1011.619 L590.317,1009.944 L591.39,1008.25 L592.442,1006.539 L593.473,1004.81 L594.485,1003.066 L595.477,1001.306 L596.451,999.532 L597.407,997.745 L598.347,995.945 L599.272,994.133 L600.181,992.31 L601.077,990.478 L601.959,988.636 L602.828,986.786 L603.687,984.928 L604.534,983.064 L605.372,981.194 L606.201,979.319 L607.021,977.44 L607.834,975.558 L608.641,973.673 L609.441,971.787 L610.237,969.9 L611.029,968.013 L611.816,966.126 L612.598,964.238 L613.377,962.35 L614.151,960.462 L614.921,958.573 L615.687,956.685 L616.449,954.795 L617.207,952.906 L617.961,951.016 L618.711,949.126 L619.458,947.236 L620.201,945.346 L620.941,943.455 L621.677,941.564 L622.41,939.673 L623.139,937.781 L623.866,935.889 L624.589,933.997 L625.309,932.105 L626.026,930.213 L626.74,928.32 L627.451,926.427 L628.159,924.534 L628.865,922.641 L629.568,920.747 L630.268,918.854 L630.966,916.96 L631.662,915.066 L632.355,913.171 L633.046,911.277 L633.734,909.382 L634.421,907.487 L635.105,905.592 L635.788,903.697 L636.469,901.802 L637.147,899.906 L637.824,898.01 L638.5,896.115 L639.174,894.219 L639.846,892.322 L640.517,890.426 L641.186,888.53 L641.854,886.633 L642.521,884.737 L643.187,882.84 L643.851,880.943 L644.515,879.046 L645.177,877.149 L645.839,875.251 L646.5,873.354 L647.16,871.457 L647.82,869.559 L648.479,867.661 L649.138,865.764 L649.796,863.866 L650.454,861.968 L651.111,860.07 L651.768,858.172 L652.426,856.274 L653.083,854.376 L653.74,852.478 L654.397,850.579 L655.055,848.681 L655.712,846.783 L656.371,844.884 L657.029,842.986 L657.688,841.088 L658.347,839.189 L659.007,837.291 L659.668,835.392 L660.33,833.493 L660.992,831.595 L661.655,829.696 L662.32,827.798 L662.985,825.899 L663.652,824.001 L664.319,822.102 L664.988,820.204 L665.659,818.305 L666.33,816.407 L667.004,814.508 L667.679,812.61 L668.355,810.711 L669.033,808.813 L669.713,806.915 L670.395,805.017 L671.079,803.118 L671.765,801.22 L672.453,799.322 L673.144,797.424 L673.836,795.526 L674.531,793.628 L675.228,791.73 L675.928,789.833 L676.63,787.935 L677.335,786.038 L678.042,784.14 L678.753,782.243 L679.466,780.346 L680.182,778.448 L680.901,776.551 L681.623,774.655 L682.349,772.758 L683.077,770.861 L683.809,768.965 L684.544,767.068 L685.283,765.172 L686.025,763.276 L686.771,761.38 L687.52,759.484 L688.273,757.588 L689.03,755.693 L689.791,753.797 L690.556,751.902 L691.324,750.007 L692.097,748.112 L692.874,746.218 L693.656,744.323 L694,742.4" fill="none" stroke="#008000" stroke-width="2" stroke-linejoin="round" stroke-linecap="butt"/>
<path d="M530,1044.8 L531.66,1045.071 L534.041,1044.912 L536.361,1044.684 L538.622,1044.389 L540.825,1044.027 L542.971,1043.6 L545.06,1043.109 L547.095,1042.556 L549.076,1041.942 L551.004,1041.269 L552.88,1040.537 L554.707,1039.749 L556.483,1038.905 L558.212,1038.007 L559.893,1037.057 L561.529,1036.055 L563.119,1035.003 L564.666,1033.902 L566.17,1032.754 L567.632,1031.56 L569.055,1030.322 L570.437,1029.04 L571.782,1027.717 L573.09,1026.353 L574.361,1024.95 L575.598,1023.509 L576.801,1022.032 L577.971,1020.52 L579.11,1018.974 L580.219,1017.396 L581.298,1015.788 L582.349,1014.149 L583.373,1012.483 L584.372,1010.789 L585.345,1009.07 L586.295,1007.328 L587.222,1005.562 L588.127,1003.775 L589.013,1001.968 L589.879,1000.142 L590.727,998.3 L591.558,996.441 L592.373,994.568 L593.174,992.681 L593.961,990.783 L594.735,988.874 L595.498,986.956 L596.25,985.031 L596.994,983.099 L597.729,981.162 L598.457,979.222 L599.18,977.279 L599.898,975.336 L600.612,973.392 L601.323,971.45 L602.031,969.509 L602.736,967.569 L603.438,965.63 L604.137,963.691 L604.833,961.754 L605.527,959.817 L606.217,957.882 L606.906,955.947 L607.591,954.013 L608.274,952.08 L608.954,950.148 L609.633,948.217 L610.308,946.287 L610.982,944.358 L611.653,942.429 L612.322,940.502 L612.989,938.575 L613.654,936.649 L614.317,934.724 L614.978,932.799 L615.637,930.876 L616.294,928.953 L616.95,927.031 L617.604,925.11 L618.256,923.19 L618.907,921.271 L619.556,919.352 L620.204,917.434 L620.85,915.517 L621.495,913.6 L622.139,911.685 L622.782,909.77 L623.424,907.855 L624.064,905.942 L624.704,904.029 L625.342,902.117 L625.98,900.206 L626.617,898.295 L627.253,896.385 L627.889,894.476 L628.524,892.567 L629.158,890.659 L629.792,888.752 L630.425,886.845 L631.058,884.939 L631.69,883.034 L632.323,881.129 L632.955,879.225 L633.587,877.321 L634.219,875.418 L634.851,873.516 L635.483,871.614 L636.115,869.713 L636.747,867.813 L637.379,865.913 L638.012,864.013 L638.645,862.114 L639.279,860.216 L639.913,858.318 L640.547,856.421 L641.182,854.524 L641.818,852.628 L642.455,850.732 L643.092,848.837 L643.73,846.942 L644.369,845.048 L645.009,843.154 L645.65,841.261 L646.292,839.368 L646.935,837.476 L647.58,835.584 L648.225,833.693 L648.872,831.802 L649.521,829.911 L650.171,828.021 L650.822,826.131 L651.475,824.242 L652.13,822.353 L652.786,820.464 L653.444,818.576 L654.104,816.688 L654.766,814.801 L655.43,812.914 L656.096,811.027 L656.763,809.141 L657.433,807.255 L658.106,805.369 L658.78,803.484 L659.457,801.599 L660.136,799.714 L660.817,797.83 L661.501,795.946 L662.188,794.062 L662.877,792.179 L663.569,790.296 L664.264,788.413 L664.961,786.53 L665.661,784.648 L666.365,782.765 L667.071,780.883 L667.78,779.002 L668.493,777.12 L669.208,775.239 L669.927,773.358 L670.649,771.477 L671.375,769.597 L672.104,767.716 L672.836,765.836 L673.572,763.956 L674.311,762.076 L675.055,760.196 L675.801,758.316 L676.552,756.437 L677.307,754.558 L678.065,752.678 L678.828,750.799 L679.594,748.92 L680.365,747.042 L681.139,745.163 L681.918,743.284 L682.701,741.406 L683.489,739.527 L684.281,737.649 L685.077,735.77 L685.878,733.892 L686.684,732.014 L687.494,730.136 L688.309,728.258 L689.129,726.38 L689.953,724.501 L690.783,722.623 L691.617,720.745 L692.456,718.867 L693.301,716.989 L694,715.2" fill="none" stroke="#ff0000" stroke-width="2" stroke-linejoin="round" stroke-linecap="butt"/>
<path d="M447.9,29.3 L452.1,29.3 L455.6,500.2 L451.7,500.2 Z" fill="#000"/>
<path d="M444,571.3 L447.8,571.3 L452.6,1044.7 L447.9,1044.7 Z" fill="#000"/>
<line x1="360" y1="500.6" x2="443.2" y2="500.6" stroke="#ff0000" stroke-width="2.3" stroke-linecap="butt"/>
<line x1="443.2" y1="500.6" x2="448.2" y2="500.6" stroke="#0880a0" stroke-width="2.3" stroke-linecap="butt"/>
<line x1="448.2" y1="500.6" x2="461.9" y2="500.6" stroke="#0000ff" stroke-width="2.3" stroke-linecap="butt"/>
<line x1="461.9" y1="500.6" x2="467.1" y2="500.6" stroke="#008000" stroke-width="2.3" stroke-linecap="butt"/>
<line x1="467.1" y1="500.6" x2="545" y2="500.6" stroke="#ff0000" stroke-width="2.3" stroke-linecap="butt"/>
<line x1="355" y1="1044.9" x2="439.3" y2="1044.9" stroke="#ff0000" stroke-width="2.3" stroke-linecap="butt"/>
<line x1="439.3" y1="1044.9" x2="451.1" y2="1044.9" stroke="#0880a0" stroke-width="2.3" stroke-linecap="butt"/>
<line x1="451.1" y1="1044.9" x2="458.7" y2="1044.9" stroke="#008000" stroke-width="2.3" stroke-linecap="butt"/>
<line x1="458.7" y1="1044.9" x2="540" y2="1044.9" stroke="#ff0000" stroke-width="2.3" stroke-linecap="butt"/>
<line x1="383.2" y1="48.7" x2="437.5" y2="48.7" stroke="#ff0000" stroke-width="4.1" stroke-linecap="butt"/>
<line x1="383.2" y1="78.6" x2="437.5" y2="78.6" stroke="#000000" stroke-width="4.1" stroke-linecap="butt"/>
<line x1="383.2" y1="110.5" x2="437.5" y2="110.5" stroke="#0000ff" stroke-width="4.1" stroke-linecap="butt"/>
<line x1="383.2" y1="144.3" x2="437.5" y2="144.3" stroke="#008000" stroke-width="4.1" stroke-linecap="butt"/>
<path d="M309.5,137.8 C317,139.5 323.8,147 322.6,155.5 C321,162.5 292,170 262,173.4" fill="none" stroke="#00b050" stroke-width="3.4" stroke-linecap="round"/>
<path d="M249.3,174 L263.8,166.2 L263.8,180.8 Z" fill="#00b050"/>
<path d="M559.8,242.4 C569,244.5 575.8,251.5 574.6,260 C573,268 540,275.5 514,277.8" fill="none" stroke="#00b050" stroke-width="3.4" stroke-linecap="round"/>
<path d="M500.6,278.4 L515.2,270.8 L515.2,285.4 Z" fill="#00b050"/>
<path d="M220,451.8 C213.5,453 209.5,457 210.6,461 C213,465.5 240,466.5 330,469.3" fill="none" stroke="#00b050" stroke-width="3.4" stroke-linecap="round"/>
<path d="M344.7,469.4 L329.4,462.1 L329.4,476.8 Z" fill="#00b050"/>
<path d="M623.5,388 C612.5,391 607.5,403 609.3,413.2 C611.5,425 632,438.5 665.5,442.6" fill="none" stroke="#00b050" stroke-width="3.4" stroke-linecap="round"/>
<path d="M679.4,443.3 L664.6,435.6 L665,450 Z" fill="#00b050"/>
<path d="M84.61,11.634 L84.61,50.2 L77.287,50.2 L77.287,22.838 Q71.985,24.939 67.49,27.678 L67.49,21.353 Q74.257,17.033 78.297,11.634 Z" fill="#000"/>
<text transform="translate(91.486,50.2) scale(1,1.11)" font-family="'Liberation Sans', sans-serif" font-weight="bold" font-size="50.5">0</text>
<rect x="121.22" y="20.222" width="9.315" height="4.949" fill="#000"/>
<text transform="translate(130.26,32.5) scale(1,1.095)" font-family="'Liberation Sans', sans-serif" font-weight="bold" font-size="34.5" letter-spacing="-1">4</text>
<path d="M84.61,70.247 L84.61,108.812 L77.287,108.812 L77.287,81.45 Q71.985,83.552 67.49,86.29 L67.49,79.965 Q74.257,75.646 78.297,70.247 Z" fill="#000"/>
<text transform="translate(91.486,108.812) scale(1,1.11)" font-family="'Liberation Sans', sans-serif" font-weight="bold" font-size="50.5">0</text>
<rect x="121.22" y="78.835" width="9.315" height="4.949" fill="#000"/>
<text transform="translate(130.26,91.112) scale(1,1.095)" font-family="'Liberation Sans', sans-serif" font-weight="bold" font-size="34.5" letter-spacing="-1">5</text>
<path d="M84.61,128.859 L84.61,167.425 L77.287,167.425 L77.287,140.063 Q71.985,142.164 67.49,144.903 L67.49,138.578 Q74.257,134.258 78.297,128.859 Z" fill="#000"/>
<text transform="translate(91.486,167.425) scale(1,1.11)" font-family="'Liberation Sans', sans-serif" font-weight="bold" font-size="50.5">0</text>
<rect x="121.22" y="137.447" width="9.315" height="4.949" fill="#000"/>
<text transform="translate(130.26,149.725) scale(1,1.095)" font-family="'Liberation Sans', sans-serif" font-weight="bold" font-size="34.5" letter-spacing="-1">6</text>
<path d="M84.61,187.472 L84.61,226.037 L77.287,226.037 L77.287,198.675 Q71.985,200.777 67.49,203.515 L67.49,197.19 Q74.257,192.871 78.297,187.472 Z" fill="#000"/>
<text transform="translate(91.486,226.037) scale(1,1.11)" font-family="'Liberation Sans', sans-serif" font-weight="bold" font-size="50.5">0</text>
<rect x="121.22" y="196.06" width="9.315" height="4.949" fill="#000"/>
<text transform="translate(130.26,208.337) scale(1,1.095)" font-family="'Liberation Sans', sans-serif" font-weight="bold" font-size="34.5" letter-spacing="-1">7</text>
<path d="M84.61,246.084 L84.61,284.65 L77.287,284.65 L77.287,257.288 Q71.985,259.389 67.49,262.128 L67.49,255.803 Q74.257,251.483 78.297,246.084 Z" fill="#000"/>
<text transform="translate(91.486,284.65) scale(1,1.11)" font-family="'Liberation Sans', sans-serif" font-weight="bold" font-size="50.5">0</text>
<rect x="121.22" y="254.672" width="9.315" height="4.949" fill="#000"/>
<text transform="translate(130.26,266.95) scale(1,1.095)" font-family="'Liberation Sans', sans-serif" font-weight="bold" font-size="34.5" letter-spacing="-1">8</text>
<path d="M84.61,304.697 L84.61,343.262 L77.287,343.262 L77.287,315.9 Q71.985,318.002 67.49,320.74 L67.49,314.415 Q74.257,310.096 78.297,304.697 Z" fill="#000"/>
<text transform="translate(91.486,343.262) scale(1,1.11)" font-family="'Liberation Sans', sans-serif" font-weight="bold" font-size="50.5">0</text>
<rect x="121.22" y="313.285" width="9.315" height="4.949" fill="#000"/>
<text transform="translate(130.26,325.562) scale(1,1.095)" font-family="'Liberation Sans', sans-serif" font-weight="bold" font-size="34.5" letter-spacing="-1">9</text>
<path d="M84.61,363.309 L84.61,401.875 L77.287,401.875 L77.287,374.513 Q71.985,376.614 67.49,379.353 L67.49,373.028 Q74.257,368.708 78.297,363.309 Z" fill="#000"/>
<text transform="translate(91.486,401.875) scale(1,1.11)" font-family="'Liberation Sans', sans-serif" font-weight="bold" font-size="50.5">0</text>
<rect x="121.22" y="371.897" width="9.315" height="4.949" fill="#000"/>
<path d="M144.75,358.184 L144.75,384.175 L139.748,384.175 L139.748,365.734 Q136.125,367.151 133.055,368.996 L133.055,364.734 Q137.678,361.823 140.438,358.184 Z" fill="#000"/>
<text transform="translate(148.447,384.175) scale(1,1.095)" font-family="'Liberation Sans', sans-serif" font-weight="bold" font-size="34.5" letter-spacing="-1">0</text>
<path d="M84.61,421.922 L84.61,460.487 L77.287,460.487 L77.287,433.125 Q71.985,435.227 67.49,437.965 L67.49,431.64 Q74.257,427.321 78.297,421.922 Z" fill="#000"/>
<text transform="translate(91.486,460.487) scale(1,1.11)" font-family="'Liberation Sans', sans-serif" font-weight="bold" font-size="50.5">0</text>
<rect x="121.22" y="430.51" width="9.315" height="4.949" fill="#000"/>
<path d="M144.75,416.797 L144.75,442.787 L139.748,442.787 L139.748,424.347 Q136.125,425.763 133.055,427.609 L133.055,423.346 Q137.678,420.435 140.438,416.797 Z" fill="#000"/>
<path d="M162.937,416.797 L162.937,442.787 L157.935,442.787 L157.935,424.347 Q154.312,425.763 151.242,427.609 L151.242,423.346 Q155.865,420.435 158.625,416.797 Z" fill="#000"/>
<path d="M84.61,480.534 L84.61,519.1 L77.287,519.1 L77.287,491.738 Q71.985,493.839 67.49,496.578 L67.49,490.253 Q74.257,485.933 78.297,480.534 Z" fill="#000"/>
<text transform="translate(91.486,519.1) scale(1,1.11)" font-family="'Liberation Sans', sans-serif" font-weight="bold" font-size="50.5">0</text>
<rect x="121.22" y="489.122" width="9.315" height="4.949" fill="#000"/>
<path d="M144.75,475.409 L144.75,501.4 L139.748,501.4 L139.748,482.959 Q136.125,484.376 133.055,486.221 L133.055,481.959 Q137.678,479.048 140.438,475.409 Z" fill="#000"/>
<text transform="translate(148.447,501.4) scale(1,1.095)" font-family="'Liberation Sans', sans-serif" font-weight="bold" font-size="34.5" letter-spacing="-1">2</text>
<text transform="translate(740.741,50.2) scale(1,1.11)" font-family="'Liberation Sans', sans-serif" font-weight="bold" font-size="50.5">2.0x</text>
<path d="M860.239,11.634 L860.239,50.2 L852.916,50.2 L852.916,22.838 Q847.614,24.939 843.119,27.678 L843.119,21.353 Q849.886,17.033 853.926,11.634 Z" fill="#000"/>
<text transform="translate(867.114,50.2) scale(1,1.11)" font-family="'Liberation Sans', sans-serif" font-weight="bold" font-size="50.5">0</text>
<rect x="896.649" y="20.222" width="9.315" height="4.949" fill="#000"/>
<text transform="translate(905.689,32.5) scale(1,1.095)" font-family="'Liberation Sans', sans-serif" font-weight="bold" font-size="34.5" letter-spacing="-1">5</text>
<path d="M761.951,128.859 L761.951,167.425 L754.629,167.425 L754.629,140.063 Q749.326,142.164 744.832,144.903 L744.832,138.578 Q751.599,134.258 755.639,128.859 Z" fill="#000"/>
<text transform="translate(768.827,167.425) scale(1,1.11)" font-family="'Liberation Sans', sans-serif" font-weight="bold" font-size="50.5">.5x</text>
<path d="M860.239,128.859 L860.239,167.425 L852.916,167.425 L852.916,140.063 Q847.614,142.164 843.119,144.903 L843.119,138.578 Q849.886,134.258 853.926,128.859 Z" fill="#000"/>
<text transform="translate(867.114,167.425) scale(1,1.11)" font-family="'Liberation Sans', sans-serif" font-weight="bold" font-size="50.5">0</text>
<rect x="896.649" y="137.447" width="9.315" height="4.949" fill="#000"/>
<text transform="translate(905.689,149.725) scale(1,1.095)" font-family="'Liberation Sans', sans-serif" font-weight="bold" font-size="34.5" letter-spacing="-1">5</text>
<path d="M860.239,246.084 L860.239,284.65 L852.916,284.65 L852.916,257.288 Q847.614,259.389 843.119,262.128 L843.119,255.803 Q849.886,251.483 853.926,246.084 Z" fill="#000"/>
<text transform="translate(867.114,284.65) scale(1,1.11)" font-family="'Liberation Sans', sans-serif" font-weight="bold" font-size="50.5">0</text>
<rect x="896.649" y="254.672" width="9.315" height="4.949" fill="#000"/>
<text transform="translate(905.689,266.95) scale(1,1.095)" font-family="'Liberation Sans', sans-serif" font-weight="bold" font-size="34.5" letter-spacing="-1">5</text>
<text transform="translate(740.741,401.875) scale(1,1.11)" font-family="'Liberation Sans', sans-serif" font-weight="bold" font-size="50.5">5.0x</text>
<path d="M860.239,363.309 L860.239,401.875 L852.916,401.875 L852.916,374.513 Q847.614,376.614 843.119,379.353 L843.119,373.028 Q849.886,368.708 853.926,363.309 Z" fill="#000"/>
<text transform="translate(867.114,401.875) scale(1,1.11)" font-family="'Liberation Sans', sans-serif" font-weight="bold" font-size="50.5">0</text>
<rect x="896.649" y="371.897" width="9.315" height="4.949" fill="#000"/>
<text transform="translate(905.689,384.175) scale(1,1.095)" font-family="'Liberation Sans', sans-serif" font-weight="bold" font-size="34.5" letter-spacing="-1">6</text>
<path d="M79.21,556.134 L79.21,594.7 L71.888,594.7 L71.888,567.338 Q66.585,569.439 62.09,572.178 L62.09,565.853 Q68.858,561.533 72.898,556.134 Z" fill="#000"/>
<text transform="translate(86.086,594.7) scale(1,1.11)" font-family="'Liberation Sans', sans-serif" font-weight="bold" font-size="50.5">0</text>
<rect x="115.82" y="564.722" width="9.315" height="4.949" fill="#000"/>
<text transform="translate(124.86,577) scale(1,1.095)" font-family="'Liberation Sans', sans-serif" font-weight="bold" font-size="34.5" letter-spacing="-1">4</text>
<path d="M79.21,614.747 L79.21,653.312 L71.888,653.312 L71.888,625.95 Q66.585,628.052 62.09,630.79 L62.09,624.465 Q68.858,620.146 72.898,614.747 Z" fill="#000"/>
<text transform="translate(86.086,653.312) scale(1,1.11)" font-family="'Liberation Sans', sans-serif" font-weight="bold" font-size="50.5">0</text>
<rect x="115.82" y="623.335" width="9.315" height="4.949" fill="#000"/>
<text transform="translate(124.86,635.612) scale(1,1.095)" font-family="'Liberation Sans', sans-serif" font-weight="bold" font-size="34.5" letter-spacing="-1">5</text>
<path d="M79.21,673.359 L79.21,711.925 L71.888,711.925 L71.888,684.563 Q66.585,686.664 62.09,689.403 L62.09,683.078 Q68.858,678.758 72.898,673.359 Z" fill="#000"/>
<text transform="translate(86.086,711.925) scale(1,1.11)" font-family="'Liberation Sans', sans-serif" font-weight="bold" font-size="50.5">0</text>
<rect x="115.82" y="681.947" width="9.315" height="4.949" fill="#000"/>
<text transform="translate(124.86,694.225) scale(1,1.095)" font-family="'Liberation Sans', sans-serif" font-weight="bold" font-size="34.5" letter-spacing="-1">6</text>
<path d="M79.21,731.972 L79.21,770.537 L71.888,770.537 L71.888,743.175 Q66.585,745.277 62.09,748.015 L62.09,741.69 Q68.858,737.371 72.898,731.972 Z" fill="#000"/>
<text transform="translate(86.086,770.537) scale(1,1.11)" font-family="'Liberation Sans', sans-serif" font-weight="bold" font-size="50.5">0</text>
<rect x="115.82" y="740.56" width="9.315" height="4.949" fill="#000"/>
<text transform="translate(124.86,752.837) scale(1,1.095)" font-family="'Liberation Sans', sans-serif" font-weight="bold" font-size="34.5" letter-spacing="-1">7</text>
<path d="M79.21,790.584 L79.21,829.15 L71.888,829.15 L71.888,801.788 Q66.585,803.889 62.09,806.628 L62.09,800.303 Q68.858,795.983 72.898,790.584 Z" fill="#000"/>
<text transform="translate(86.086,829.15) scale(1,1.11)" font-family="'Liberation Sans', sans-serif" font-weight="bold" font-size="50.5">0</text>
<rect x="115.82" y="799.172" width="9.315" height="4.949" fill="#000"/>
<text transform="translate(124.86,811.45) scale(1,1.095)" font-family="'Liberation Sans', sans-serif" font-weight="bold" font-size="34.5" letter-spacing="-1">8</text>
<path d="M79.21,849.197 L79.21,887.762 L71.888,887.762 L71.888,860.4 Q66.585,862.502 62.09,865.24 L62.09,858.915 Q68.858,854.596 72.898,849.197 Z" fill="#000"/>
<text transform="translate(86.086,887.762) scale(1,1.11)" font-family="'Liberation Sans', sans-serif" font-weight="bold" font-size="50.5">0</text>
<rect x="115.82" y="857.785" width="9.315" height="4.949" fill="#000"/>
<text transform="translate(124.86,870.062) scale(1,1.095)" font-family="'Liberation Sans', sans-serif" font-weight="bold" font-size="34.5" letter-spacing="-1">9</text>
<path d="M79.21,907.809 L79.21,946.375 L71.888,946.375 L71.888,919.013 Q66.585,921.114 62.09,923.853 L62.09,917.528 Q68.858,913.208 72.898,907.809 Z" fill="#000"/>
<text transform="translate(86.086,946.375) scale(1,1.11)" font-family="'Liberation Sans', sans-serif" font-weight="bold" font-size="50.5">0</text>
<rect x="115.82" y="916.397" width="9.315" height="4.949" fill="#000"/>
<path d="M139.35,902.684 L139.35,928.675 L134.348,928.675 L134.348,910.234 Q130.725,911.651 127.655,913.496 L127.655,909.234 Q132.278,906.323 135.038,902.684 Z" fill="#000"/>
<text transform="translate(143.047,928.675) scale(1,1.095)" font-family="'Liberation Sans', sans-serif" font-weight="bold" font-size="34.5" letter-spacing="-1">0</text>
<path d="M79.21,966.422 L79.21,1004.987 L71.888,1004.987 L71.888,977.625 Q66.585,979.727 62.09,982.465 L62.09,976.14 Q68.858,971.821 72.898,966.422 Z" fill="#000"/>
<text transform="translate(86.086,1004.987) scale(1,1.11)" font-family="'Liberation Sans', sans-serif" font-weight="bold" font-size="50.5">0</text>
<rect x="115.82" y="975.01" width="9.315" height="4.949" fill="#000"/>
<path d="M139.35,961.297 L139.35,987.287 L134.348,987.287 L134.348,968.847 Q130.725,970.263 127.655,972.109 L127.655,967.846 Q132.278,964.935 135.038,961.297 Z" fill="#000"/>
<path d="M157.537,961.297 L157.537,987.287 L152.535,987.287 L152.535,968.847 Q148.912,970.263 145.842,972.109 L145.842,967.846 Q150.465,964.935 153.225,961.297 Z" fill="#000"/>
<path d="M79.21,1025.034 L79.21,1063.6 L71.888,1063.6 L71.888,1036.238 Q66.585,1038.339 62.09,1041.078 L62.09,1034.753 Q68.858,1030.433 72.898,1025.034 Z" fill="#000"/>
<text transform="translate(86.086,1063.6) scale(1,1.11)" font-family="'Liberation Sans', sans-serif" font-weight="bold" font-size="50.5">0</text>
<rect x="115.82" y="1033.622" width="9.315" height="4.949" fill="#000"/>
<path d="M139.35,1019.909 L139.35,1045.9 L134.348,1045.9 L134.348,1027.459 Q130.725,1028.876 127.655,1030.721 L127.655,1026.459 Q132.278,1023.548 135.038,1019.909 Z" fill="#000"/>
<text transform="translate(143.047,1045.9) scale(1,1.095)" font-family="'Liberation Sans', sans-serif" font-weight="bold" font-size="34.5" letter-spacing="-1">2</text>
<text transform="translate(735.341,594.7) scale(1,1.11)" font-family="'Liberation Sans', sans-serif" font-weight="bold" font-size="50.5">2.0x</text>
<path d="M854.839,556.134 L854.839,594.7 L847.516,594.7 L847.516,567.338 Q842.214,569.439 837.719,572.178 L837.719,565.853 Q844.486,561.533 848.526,556.134 Z" fill="#000"/>
<text transform="translate(861.714,594.7) scale(1,1.11)" font-family="'Liberation Sans', sans-serif" font-weight="bold" font-size="50.5">0</text>
<rect x="891.249" y="564.722" width="9.315" height="4.949" fill="#000"/>
<text transform="translate(900.289,577) scale(1,1.095)" font-family="'Liberation Sans', sans-serif" font-weight="bold" font-size="34.5" letter-spacing="-1">5</text>
<path d="M756.551,673.359 L756.551,711.925 L749.229,711.925 L749.229,684.563 Q743.926,686.664 739.432,689.403 L739.432,683.078 Q746.199,678.758 750.239,673.359 Z" fill="#000"/>
<text transform="translate(763.427,711.925) scale(1,1.11)" font-family="'Liberation Sans', sans-serif" font-weight="bold" font-size="50.5">.5x</text>
<path d="M854.839,673.359 L854.839,711.925 L847.516,711.925 L847.516,684.563 Q842.214,686.664 837.719,689.403 L837.719,683.078 Q844.486,678.758 848.526,673.359 Z" fill="#000"/>
<text transform="translate(861.714,711.925) scale(1,1.11)" font-family="'Liberation Sans', sans-serif" font-weight="bold" font-size="50.5">0</text>
<rect x="891.249" y="681.947" width="9.315" height="4.949" fill="#000"/>
<text transform="translate(900.289,694.225) scale(1,1.095)" font-family="'Liberation Sans', sans-serif" font-weight="bold" font-size="34.5" letter-spacing="-1">5</text>
<path d="M854.839,790.584 L854.839,829.15 L847.516,829.15 L847.516,801.788 Q842.214,803.889 837.719,806.628 L837.719,800.303 Q844.486,795.983 848.526,790.584 Z" fill="#000"/>
<text transform="translate(861.714,829.15) scale(1,1.11)" font-family="'Liberation Sans', sans-serif" font-weight="bold" font-size="50.5">0</text>
<rect x="891.249" y="799.172" width="9.315" height="4.949" fill="#000"/>
<text transform="translate(900.289,811.45) scale(1,1.095)" font-family="'Liberation Sans', sans-serif" font-weight="bold" font-size="34.5" letter-spacing="-1">5</text>
<text transform="translate(735.341,946.375) scale(1,1.11)" font-family="'Liberation Sans', sans-serif" font-weight="bold" font-size="50.5">5.0x</text>
<path d="M854.839,907.809 L854.839,946.375 L847.516,946.375 L847.516,919.013 Q842.214,921.114 837.719,923.853 L837.719,917.528 Q844.486,913.208 848.526,907.809 Z" fill="#000"/>
<text transform="translate(861.714,946.375) scale(1,1.11)" font-family="'Liberation Sans', sans-serif" font-weight="bold" font-size="50.5">0</text>
<rect x="891.249" y="916.397" width="9.315" height="4.949" fill="#000"/>
<text transform="translate(900.289,928.675) scale(1,1.095)" font-family="'Liberation Sans', sans-serif" font-weight="bold" font-size="34.5" letter-spacing="-1">6</text>
<text transform="translate(44.8,474.2) rotate(-90) scale(1,1.043)" font-family="'Liberation Sans', sans-serif" font-weight="bold" font-size="53.82">Drain Current (A)</text>
<text transform="translate(992.9,484.2) rotate(-90) scale(1,1.046)" font-family="'Liberation Sans', sans-serif" font-weight="bold" font-size="53.83">Drain Current (A)</text>
<text transform="translate(39.5,1017.7) rotate(-90) scale(1,1.043)" font-family="'Liberation Sans', sans-serif" font-weight="bold" font-size="53.82">Drain Current (A)</text>
<text transform="translate(986.9,1028.2) rotate(-90) scale(1,1.046)" font-family="'Liberation Sans', sans-serif" font-weight="bold" font-size="53.83">Drain Current (A)</text>
<text transform="translate(242.794,19.5) scale(1,1.04)" font-family="'Liberation Serif', serif" font-weight="bold" font-size="29.602">PFET</text>
<text transform="translate(628.238,19.5) scale(1,1.04)" font-family="'Liberation Serif', serif" font-weight="bold" font-size="29.512">NFET</text>
<text transform="translate(220.895,567.6) scale(1,1.04)" font-family="'Liberation Serif', serif" font-weight="bold" font-size="29.523">PFET</text>
<text transform="translate(607.429,567.7) scale(1,1.04)" font-family="'Liberation Serif', serif" font-weight="bold" font-size="29.968">NFET</text>
<text transform="translate(228.2,68.8) scale(1,1.027)" font-family="'Liberation Sans', sans-serif" font-weight="bold" font-size="25.2">V</text>
<text transform="translate(244.6,73.9) scale(1,0.97)" font-family="'Liberation Sans', sans-serif" font-weight="bold" font-size="17.6">D</text>
<text transform="translate(256.3,68.8) scale(1,1.02)" font-family="'Liberation Sans', sans-serif" font-weight="bold" font-size="25.5">-linear</text>
<text transform="translate(205.8,605.2) scale(1,1.01)" font-family="'Liberation Sans', sans-serif" font-weight="bold" font-size="25.2">V</text>
<text transform="translate(220.9,610.3) scale(1,0.97)" font-family="'Liberation Sans', sans-serif" font-weight="bold" font-size="17.6">D</text>
<text transform="translate(233.9,605.2) scale(1,1.01)" font-family="'Liberation Sans', sans-serif" font-weight="bold" font-size="25.2">-saturation</text>
<text transform="translate(455.974,54.657) scale(1,1.029)" font-family="'Liberation Sans', sans-serif" font-weight="bold" font-size="25.019">Control Sample</text>
<text transform="translate(456.591,84.252) scale(1,1.024)" font-family="'Liberation Sans', sans-serif" font-weight="bold" font-size="24.819">60% CR</text>
<text transform="translate(455.922,119.548) scale(1,1.031)" font-family="'Liberation Sans', sans-serif" font-weight="bold" font-size="25.081">70% CR</text>
<text transform="translate(456.206,156.745) scale(1,1.045)" font-family="'Liberation Sans', sans-serif" font-weight="bold" font-size="25.004">80% CR</text>
<text transform="translate(212.546,297.316) scale(1,1.01)" font-family="'Liberation Sans', sans-serif" font-weight="bold" font-size="45.254">(a)</text>
<text transform="translate(212.115,1006.161) scale(1,0.992)" font-family="'Liberation Sans', sans-serif" font-weight="bold" font-size="45.87">(b)</text>
<rect x="200.95" y="1102.343" width="13.824" height="7.21" fill="#000"/>
<text transform="translate(215.85,1120.231) scale(1,1.075)" font-family="'Liberation Sans', sans-serif" font-weight="bold" font-size="51.2">0.6</text>
<rect x="305.85" y="1102.343" width="13.824" height="7.21" fill="#000"/>
<text transform="translate(320.75,1120.231) scale(1,1.075)" font-family="'Liberation Sans', sans-serif" font-weight="bold" font-size="51.2">0.3</text>
<text transform="translate(415.575,1120.231) scale(1,1.075)" font-family="'Liberation Sans', sans-serif" font-weight="bold" font-size="51.2">0.0</text>
<text transform="translate(519.575,1120.231) scale(1,1.075)" font-family="'Liberation Sans', sans-serif" font-weight="bold" font-size="51.2">0.3</text>
<text transform="translate(623.575,1120.231) scale(1,1.075)" font-family="'Liberation Sans', sans-serif" font-weight="bold" font-size="51.2">0.6</text>
<text transform="translate(246.75,1180.4) scale(1,1.065)" font-family="'Liberation Sans', sans-serif" font-weight="bold" font-size="52.5" letter-spacing="-1.19">Gate</text>
<text transform="translate(370.94,1180.4) scale(1,1.065)" font-family="'Liberation Sans', sans-serif" font-weight="bold" font-size="52.5" letter-spacing="-0.88">Voltage</text>
<text transform="translate(567.39,1180.4) scale(1,1.065)" font-family="'Liberation Sans', sans-serif" font-weight="bold" font-size="52.5" letter-spacing="-0.88">(V)</text>
</svg></body></html>
